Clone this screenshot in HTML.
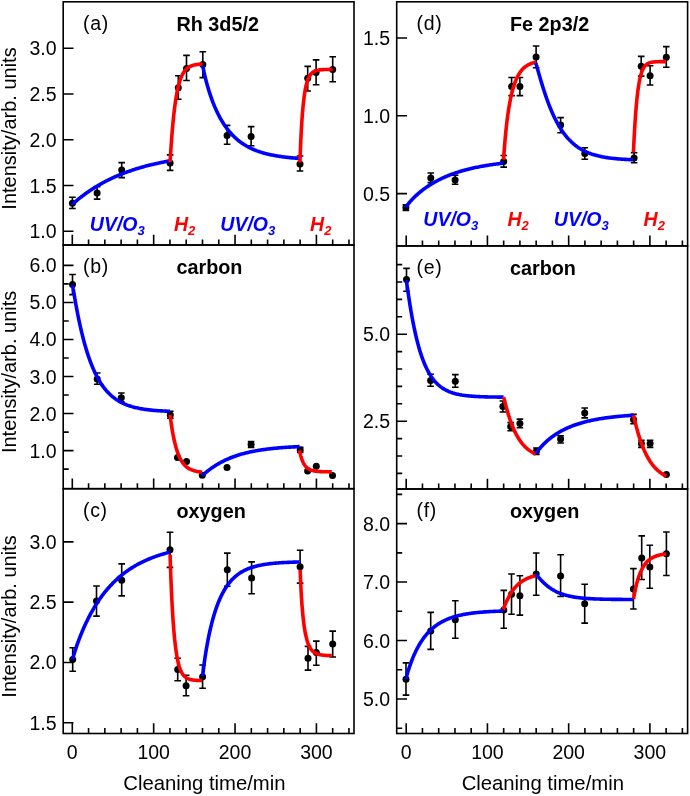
<!DOCTYPE html>
<html><head><meta charset="utf-8"><title>Cleaning time series</title>
<style>html,body{margin:0;padding:0;background:#fff;}svg{display:block;}</style>
</head><body>
<svg width="690" height="796" viewBox="0 0 690 796">
<rect x="0" y="0" width="690" height="796" fill="#ffffff"/>
<rect x="63.2" y="1.8" width="290.80" height="243.20" fill="none" stroke="#000" stroke-width="1.6"/>
<rect x="63.2" y="245.0" width="290.80" height="243.70" fill="none" stroke="#000" stroke-width="1.6"/>
<rect x="63.2" y="488.7" width="290.80" height="244.80" fill="none" stroke="#000" stroke-width="1.6"/>
<rect x="396.7" y="1.8" width="290.90" height="244.10" fill="none" stroke="#000" stroke-width="1.6"/>
<rect x="396.7" y="245.9" width="290.90" height="243.10" fill="none" stroke="#000" stroke-width="1.6"/>
<rect x="396.7" y="489.0" width="290.90" height="244.50" fill="none" stroke="#000" stroke-width="1.6"/>
<path d="M63.20,231.30H73.50 M63.20,185.53H73.50 M63.20,139.75H73.50 M63.20,93.98H73.50 M63.20,48.20H73.50 M72.30,245.00V234.70 M88.57,245.00V239.50 M104.85,245.00V239.50 M121.12,245.00V239.50 M137.40,245.00V239.50 M153.67,245.00V234.70 M169.94,245.00V239.50 M186.22,245.00V239.50 M202.49,245.00V239.50 M218.77,245.00V239.50 M235.04,245.00V234.70 M251.31,245.00V239.50 M267.59,245.00V239.50 M283.86,245.00V239.50 M300.14,245.00V239.50 M316.41,245.00V234.70 M332.68,245.00V239.50 M348.96,245.00V239.50 M63.20,450.60H73.50 M63.20,413.56H73.50 M63.20,376.52H73.50 M63.20,339.48H73.50 M63.20,302.44H73.50 M63.20,265.40H73.50 M63.20,469.12H68.70 M63.20,432.08H68.70 M63.20,395.04H68.70 M63.20,358.00H68.70 M63.20,320.96H68.70 M63.20,283.92H68.70 M72.30,488.70V478.40 M88.57,488.70V483.20 M104.85,488.70V483.20 M121.12,488.70V483.20 M137.40,488.70V483.20 M153.67,488.70V478.40 M169.94,488.70V483.20 M186.22,488.70V483.20 M202.49,488.70V483.20 M218.77,488.70V483.20 M235.04,488.70V478.40 M251.31,488.70V483.20 M267.59,488.70V483.20 M283.86,488.70V483.20 M300.14,488.70V483.20 M316.41,488.70V478.40 M332.68,488.70V483.20 M348.96,488.70V483.20 M63.20,722.70H73.50 M63.20,662.43H73.50 M63.20,602.15H73.50 M63.20,541.88H73.50 M72.30,733.50V723.20 M88.57,733.50V728.00 M104.85,733.50V728.00 M121.12,733.50V728.00 M137.40,733.50V728.00 M153.67,733.50V723.20 M169.94,733.50V728.00 M186.22,733.50V728.00 M202.49,733.50V728.00 M218.77,733.50V728.00 M235.04,733.50V723.20 M251.31,733.50V728.00 M267.59,733.50V728.00 M283.86,733.50V728.00 M300.14,733.50V728.00 M316.41,733.50V723.20 M332.68,733.50V728.00 M348.96,733.50V728.00 M396.70,193.60H407.00 M396.70,115.80H407.00 M396.70,38.00H407.00 M406.20,245.90V235.60 M422.45,245.90V240.40 M438.69,245.90V240.40 M454.94,245.90V240.40 M471.18,245.90V240.40 M487.43,245.90V235.60 M503.68,245.90V240.40 M519.92,245.90V240.40 M536.17,245.90V240.40 M552.41,245.90V240.40 M568.66,245.90V235.60 M584.91,245.90V240.40 M601.15,245.90V240.40 M617.40,245.90V240.40 M633.64,245.90V240.40 M649.89,245.90V235.60 M666.14,245.90V240.40 M682.38,245.90V240.40 M396.70,421.20H407.00 M396.70,334.20H407.00 M396.70,473.40H402.20 M396.70,456.00H402.20 M396.70,438.60H402.20 M396.70,403.80H402.20 M396.70,386.40H402.20 M396.70,369.00H402.20 M396.70,351.60H402.20 M396.70,316.80H402.20 M396.70,299.40H402.20 M396.70,282.00H402.20 M396.70,264.60H402.20 M406.20,489.00V478.70 M422.45,489.00V483.50 M438.69,489.00V483.50 M454.94,489.00V483.50 M471.18,489.00V483.50 M487.43,489.00V478.70 M503.68,489.00V483.50 M519.92,489.00V483.50 M536.17,489.00V483.50 M552.41,489.00V483.50 M568.66,489.00V478.70 M584.91,489.00V483.50 M601.15,489.00V483.50 M617.40,489.00V483.50 M633.64,489.00V483.50 M649.89,489.00V478.70 M666.14,489.00V483.50 M682.38,489.00V483.50 M396.70,699.00H407.00 M396.70,640.53H407.00 M396.70,582.06H407.00 M396.70,523.59H407.00 M396.70,728.24H402.20 M396.70,669.76H402.20 M396.70,611.29H402.20 M396.70,552.83H402.20 M396.70,494.36H402.20 M406.20,733.50V723.20 M422.45,733.50V728.00 M438.69,733.50V728.00 M454.94,733.50V728.00 M471.18,733.50V728.00 M487.43,733.50V723.20 M503.68,733.50V728.00 M519.92,733.50V728.00 M536.17,733.50V728.00 M552.41,733.50V728.00 M568.66,733.50V723.20 M584.91,733.50V728.00 M601.15,733.50V728.00 M617.40,733.50V728.00 M633.64,733.50V728.00 M649.89,733.50V723.20 M666.14,733.50V728.00 M682.38,733.50V728.00" stroke="#000" stroke-width="1.6" fill="none"/>
<path d="M72.40,197.20V208.50M69.10,197.20H75.70M69.10,208.50H75.70 M97.10,186.60V199.10M93.80,186.60H100.40M93.80,199.10H100.40 M121.70,162.60V177.60M118.40,162.60H125.00M118.40,177.60H125.00 M170.10,154.90V170.40M166.80,154.90H173.40M166.80,170.40H173.40 M178.30,75.80V99.30M175.00,75.80H181.60M175.00,99.30H181.60 M186.50,55.40V80.50M183.20,55.40H189.80M183.20,80.50H189.80 M202.80,51.80V77.60M199.50,51.80H206.10M199.50,77.60H206.10 M227.10,125.40V144.30M223.80,125.40H230.40M223.80,144.30H230.40 M251.10,126.60V145.70M247.80,126.60H254.40M247.80,145.70H254.40 M300.00,156.00V171.00M296.70,156.00H303.30M296.70,171.00H303.30 M307.70,66.40V91.00M304.40,66.40H311.00M304.40,91.00H311.00 M316.10,59.90V84.80M312.80,59.90H319.40M312.80,84.80H319.40 M332.70,56.70V81.80M329.40,56.70H336.00M329.40,81.80H336.00 M72.50,274.50V294.60M69.20,274.50H75.80M69.20,294.60H75.80 M97.20,373.00V384.20M93.90,373.00H100.50M93.90,384.20H100.50 M121.30,393.00V401.70M118.00,393.00H124.60M118.00,401.70H124.60 M170.30,411.20V418.20M167.00,411.20H173.60M167.00,418.20H173.60 M251.10,441.60V447.50M247.80,441.60H254.40M247.80,447.50H254.40 M300.20,447.40V452.50M296.90,447.40H303.50M296.90,452.50H303.50 M72.70,647.70V671.30M69.40,647.70H76.00M69.40,671.30H76.00 M96.50,586.00V616.10M93.20,586.00H99.80M93.20,616.10H99.80 M121.70,563.90V595.90M118.40,563.90H125.00M118.40,595.90H125.00 M170.00,532.30V567.40M166.70,532.30H173.30M166.70,567.40H173.30 M177.70,658.20V680.70M174.40,658.20H181.00M174.40,680.70H181.00 M186.10,675.30V695.80M182.80,675.30H189.40M182.80,695.80H189.40 M202.60,665.00V688.30M199.30,665.00H205.90M199.30,688.30H205.90 M227.30,553.10V586.20M224.00,553.10H230.60M224.00,586.20H230.60 M251.60,561.90V593.70M248.30,561.90H254.90M248.30,593.70H254.90 M300.10,550.20V583.10M296.80,550.20H303.40M296.80,583.10H303.40 M308.00,646.40V670.10M304.70,646.40H311.30M304.70,670.10H311.30 M316.30,641.10V665.20M313.00,641.10H319.60M313.00,665.20H319.60 M332.70,631.10V657.00M329.40,631.10H336.00M329.40,657.00H336.00 M405.90,204.70V210.40M402.60,204.70H409.20M402.60,210.40H409.20 M430.80,173.00V182.60M427.50,173.00H434.10M427.50,182.60H434.10 M455.10,175.30V184.30M451.80,175.30H458.40M451.80,184.30H458.40 M503.70,155.50V167.10M500.40,155.50H507.00M500.40,167.10H507.00 M511.60,77.50V95.60M508.30,77.50H514.90M508.30,95.60H514.90 M519.90,77.50V95.60M516.60,77.50H523.20M516.60,95.60H523.20 M536.10,46.00V67.70M532.80,46.00H539.40M532.80,67.70H539.40 M560.60,117.60V132.70M557.30,117.60H563.90M557.30,132.70H563.90 M584.80,147.70V159.30M581.50,147.70H588.10M581.50,159.30H588.10 M634.10,152.80V162.80M630.80,152.80H637.40M630.80,162.80H637.40 M641.20,56.40V76.10M637.90,56.40H644.50M637.90,76.10H644.50 M650.10,65.80V85.00M646.80,65.80H653.40M646.80,85.00H653.40 M666.30,46.60V67.30M663.00,46.60H669.60M663.00,67.30H669.60 M406.50,268.40V291.20M403.20,268.40H409.80M403.20,291.20H409.80 M430.60,374.20V386.20M427.30,374.20H433.90M427.30,386.20H433.90 M455.30,374.60V387.20M452.00,374.60H458.60M452.00,387.20H458.60 M502.90,401.00V412.00M499.60,401.00H506.20M499.60,412.00H506.20 M510.70,422.60V430.80M507.40,422.60H514.00M507.40,430.80H514.00 M519.90,419.10V427.80M516.60,419.10H523.20M516.60,427.80H523.20 M536.40,448.00V454.50M533.10,448.00H539.70M533.10,454.50H539.70 M560.60,435.70V443.00M557.30,435.70H563.90M557.30,443.00H563.90 M584.70,408.00V417.90M581.40,408.00H588.00M581.40,417.90H588.00 M633.50,414.40V423.80M630.20,414.40H636.80M630.20,423.80H636.80 M641.40,440.20V447.40M638.10,440.20H644.70M638.10,447.40H644.70 M650.10,440.20V447.40M646.80,440.20H653.40M646.80,447.40H653.40 M406.00,662.90V695.10M402.70,662.90H409.30M402.70,695.10H409.30 M430.70,612.40V649.40M427.40,612.40H434.00M427.40,649.40H434.00 M455.30,600.80V638.30M452.00,600.80H458.60M452.00,638.30H458.60 M503.80,590.40V628.30M500.50,590.40H507.10M500.50,628.30H507.10 M511.50,574.00V614.30M508.20,574.00H514.80M508.20,614.30H514.80 M519.90,575.70V615.10M516.60,575.70H523.20M516.60,615.10H523.20 M536.20,553.00V595.30M532.90,553.00H539.50M532.90,595.30H539.50 M560.60,554.80V596.50M557.30,554.80H563.90M557.30,596.50H563.90 M584.70,584.20V623.10M581.40,584.20H588.00M581.40,623.10H588.00 M633.40,568.60V609.00M630.10,568.60H636.70M630.10,609.00H636.70 M641.70,535.90V579.50M638.40,535.90H645.00M638.40,579.50H645.00 M649.80,545.20V588.20M646.50,545.20H653.10M646.50,588.20H653.10 M666.40,532.00V575.50M663.10,532.00H669.70M663.10,575.50H669.70" stroke="#000" stroke-width="1.6" fill="none"/>
<g fill="#000"><circle cx="72.40" cy="203.30" r="3.5"/><circle cx="97.10" cy="192.90" r="3.5"/><circle cx="121.70" cy="170.10" r="3.5"/><circle cx="170.10" cy="163.10" r="3.5"/><circle cx="178.30" cy="87.80" r="3.5"/><circle cx="186.50" cy="68.40" r="3.5"/><circle cx="202.80" cy="64.50" r="3.5"/><circle cx="227.10" cy="135.50" r="3.5"/><circle cx="251.10" cy="136.40" r="3.5"/><circle cx="300.00" cy="164.00" r="3.5"/><circle cx="307.70" cy="78.30" r="3.5"/><circle cx="316.10" cy="72.50" r="3.5"/><circle cx="332.70" cy="69.50" r="3.5"/><circle cx="72.50" cy="284.50" r="3.5"/><circle cx="97.20" cy="379.00" r="3.5"/><circle cx="121.30" cy="397.70" r="3.5"/><circle cx="170.30" cy="415.00" r="3.5"/><circle cx="177.50" cy="457.50" r="3.5"/><circle cx="186.50" cy="461.40" r="3.5"/><circle cx="202.30" cy="475.30" r="3.5"/><circle cx="227.00" cy="467.60" r="3.5"/><circle cx="251.10" cy="444.50" r="3.5"/><circle cx="300.20" cy="450.00" r="3.5"/><circle cx="307.60" cy="471.10" r="3.5"/><circle cx="316.30" cy="466.20" r="3.5"/><circle cx="332.50" cy="475.50" r="3.5"/><circle cx="72.70" cy="659.60" r="3.5"/><circle cx="96.50" cy="601.00" r="3.5"/><circle cx="121.70" cy="580.30" r="3.5"/><circle cx="170.00" cy="549.70" r="3.5"/><circle cx="177.70" cy="669.60" r="3.5"/><circle cx="186.10" cy="685.70" r="3.5"/><circle cx="202.60" cy="676.70" r="3.5"/><circle cx="227.30" cy="569.70" r="3.5"/><circle cx="251.60" cy="578.00" r="3.5"/><circle cx="300.10" cy="566.70" r="3.5"/><circle cx="308.00" cy="658.20" r="3.5"/><circle cx="316.30" cy="652.60" r="3.5"/><circle cx="332.70" cy="644.10" r="3.5"/><circle cx="405.90" cy="207.50" r="3.5"/><circle cx="430.80" cy="177.90" r="3.5"/><circle cx="455.10" cy="180.00" r="3.5"/><circle cx="503.70" cy="161.60" r="3.5"/><circle cx="511.60" cy="86.50" r="3.5"/><circle cx="519.90" cy="86.50" r="3.5"/><circle cx="536.10" cy="56.90" r="3.5"/><circle cx="560.60" cy="125.10" r="3.5"/><circle cx="584.80" cy="153.40" r="3.5"/><circle cx="634.10" cy="158.10" r="3.5"/><circle cx="641.20" cy="66.20" r="3.5"/><circle cx="650.10" cy="75.80" r="3.5"/><circle cx="666.30" cy="57.30" r="3.5"/><circle cx="406.50" cy="279.50" r="3.5"/><circle cx="430.60" cy="380.60" r="3.5"/><circle cx="455.30" cy="381.20" r="3.5"/><circle cx="502.90" cy="406.50" r="3.5"/><circle cx="510.70" cy="426.60" r="3.5"/><circle cx="519.90" cy="423.50" r="3.5"/><circle cx="536.40" cy="451.30" r="3.5"/><circle cx="560.60" cy="439.10" r="3.5"/><circle cx="584.70" cy="413.00" r="3.5"/><circle cx="633.50" cy="419.40" r="3.5"/><circle cx="641.40" cy="443.60" r="3.5"/><circle cx="650.10" cy="443.60" r="3.5"/><circle cx="666.40" cy="474.50" r="3.5"/><circle cx="406.00" cy="679.30" r="3.5"/><circle cx="430.70" cy="630.90" r="3.5"/><circle cx="455.30" cy="619.80" r="3.5"/><circle cx="503.80" cy="609.90" r="3.5"/><circle cx="511.50" cy="594.30" r="3.5"/><circle cx="519.90" cy="595.70" r="3.5"/><circle cx="536.20" cy="573.90" r="3.5"/><circle cx="560.60" cy="576.00" r="3.5"/><circle cx="584.70" cy="603.80" r="3.5"/><circle cx="633.40" cy="588.90" r="3.5"/><circle cx="641.70" cy="557.90" r="3.5"/><circle cx="649.80" cy="567.00" r="3.5"/><circle cx="666.40" cy="553.80" r="3.5"/></g>
<polyline points="72.50,204.20 72.50,204.20 72.52,204.19 72.53,204.17 72.56,204.15 72.60,204.12 72.64,204.08 72.69,204.03 72.75,203.98 72.81,203.92 72.88,203.86 72.97,203.78 73.05,203.70 73.15,203.62 73.25,203.53 73.37,203.43 73.49,203.32 73.61,203.21 73.75,203.09 73.89,202.96 74.04,202.83 74.20,202.69 74.36,202.55 74.54,202.40 74.72,202.24 74.91,202.08 75.10,201.91 75.31,201.73 75.52,201.55 75.74,201.36 75.96,201.17 76.20,200.97 76.44,200.77 76.69,200.56 76.95,200.34 77.21,200.12 77.49,199.90 77.77,199.66 78.06,199.43 78.35,199.18 78.66,198.94 78.97,198.69 79.29,198.43 79.62,198.17 79.95,197.90 80.29,197.63 80.64,197.36 81.00,197.08 81.37,196.79 81.74,196.50 82.12,196.21 82.51,195.92 82.91,195.62 83.31,195.31 83.72,195.00 84.14,194.69 84.57,194.38 85.00,194.06 85.45,193.74 85.90,193.41 86.36,193.09 86.82,192.76 87.29,192.42 87.78,192.09 88.26,191.75 88.76,191.41 89.27,191.06 89.78,190.72 90.30,190.37 90.82,190.02 91.36,189.67 91.90,189.31 92.45,188.96 93.01,188.60 93.58,188.24 94.15,187.88 94.73,187.52 95.32,187.15 95.92,186.79 96.52,186.42 97.13,186.06 97.75,185.69 98.38,185.32 99.01,184.95 99.66,184.58 100.31,184.21 100.97,183.84 101.63,183.47 102.30,183.10 102.99,182.73 103.67,182.36 104.37,181.99 105.08,181.62 105.79,181.25 106.51,180.88 107.23,180.51 107.97,180.14 108.71,179.77 109.46,179.40 110.22,179.04 110.99,178.67 111.76,178.31 112.54,177.94 113.33,177.58 114.13,177.22 114.93,176.86 115.74,176.50 116.56,176.14 117.39,175.79 118.23,175.43 119.07,175.08 119.92,174.73 120.78,174.38 121.64,174.04 122.52,173.69 123.40,173.35 124.29,173.01 125.19,172.67 126.09,172.33 127.00,171.99 127.92,171.66 128.85,171.33 129.78,171.00 130.73,170.68 131.68,170.35 132.64,170.03 133.60,169.71 134.58,169.40 135.56,169.08 136.55,168.77 137.54,168.46 138.55,168.16 139.56,167.86 140.58,167.56 141.61,167.26 142.64,166.96 143.69,166.67 144.74,166.38 145.80,166.10 146.86,165.82 147.94,165.54 149.02,165.26 150.11,164.98 151.20,164.71 152.31,164.44 153.42,164.18 154.54,163.92 155.67,163.66 156.80,163.40 157.95,163.15 159.10,162.90 160.26,162.65 161.42,162.41 162.60,162.17 163.78,161.93 164.97,161.69 166.16,161.46 167.37,161.23 168.58,161.01 169.80,160.78" fill="none" stroke="#0000ff" stroke-width="3.6" stroke-linejoin="round" stroke-linecap="butt"/>
<polyline points="170.10,162.09 170.10,162.07 170.11,162.01 170.11,161.90 170.12,161.75 170.13,161.55 170.15,161.32 170.16,161.03 170.18,160.71 170.20,160.34 170.23,159.93 170.26,159.48 170.29,158.99 170.32,158.45 170.35,157.88 170.39,157.26 170.43,156.61 170.47,155.92 170.52,155.20 170.56,154.43 170.61,153.64 170.67,152.80 170.72,151.94 170.78,151.04 170.84,150.12 170.90,149.16 170.97,148.18 171.04,147.16 171.11,146.13 171.18,145.06 171.26,143.98 171.34,142.87 171.42,141.74 171.50,140.59 171.59,139.42 171.67,138.24 171.77,137.04 171.86,135.82 171.96,134.60 172.06,133.36 172.16,132.11 172.26,130.85 172.37,129.59 172.48,128.32 172.59,127.04 172.70,125.76 172.82,124.48 172.94,123.20 173.06,121.92 173.19,120.63 173.31,119.35 173.44,118.08 173.58,116.81 173.71,115.54 173.85,114.28 173.99,113.03 174.13,111.78 174.28,110.55 174.42,109.33 174.58,108.11 174.73,106.91 174.88,105.73 175.04,104.55 175.20,103.39 175.37,102.25 175.53,101.12 175.70,100.00 175.87,98.91 176.04,97.83 176.22,96.77 176.40,95.72 176.58,94.70 176.76,93.69 176.95,92.70 177.14,91.74 177.33,90.79 177.53,89.86 177.72,88.95 177.92,88.06 178.12,87.19 178.33,86.35 178.53,85.52 178.74,84.71 178.96,83.93 179.17,83.16 179.39,82.42 179.61,81.69 179.83,80.98 180.06,80.30 180.28,79.63 180.51,78.99 180.75,78.36 180.98,77.75 181.22,77.16 181.46,76.59 181.70,76.04 181.95,75.51 182.20,74.99 182.45,74.50 182.70,74.02 182.96,73.55 183.21,73.10 183.47,72.67 183.74,72.26 184.00,71.86 184.27,71.47 184.54,71.10 184.82,70.75 185.09,70.41 185.37,70.08 185.66,69.76 185.94,69.46 186.23,69.17 186.52,68.90 186.81,68.63 187.10,68.38 187.40,68.14 187.70,67.90 188.00,67.68 188.30,67.47 188.61,67.27 188.92,67.08 189.23,66.90 189.55,66.72 189.87,66.55 190.19,66.40 190.51,66.25 190.83,66.10 191.16,65.97 191.49,65.84 191.83,65.72 192.16,65.60 192.50,65.49 192.84,65.39 193.18,65.29 193.53,65.19 193.88,65.11 194.23,65.02 194.58,64.94 194.94,64.87 195.30,64.80 195.66,64.73 196.02,64.67 196.39,64.61 196.76,64.55 197.13,64.50 197.50,64.45 197.88,64.41 198.26,64.36 198.64,64.32 199.02,64.28 199.41,64.25 199.80,64.21 200.19,64.18 200.59,64.15 200.99,64.12 201.39,64.10 201.79,64.07 202.19,64.05 202.60,64.03" fill="none" stroke="#ff0000" stroke-width="3.6" stroke-linejoin="round" stroke-linecap="butt"/>
<polyline points="202.80,65.90 202.80,65.93 202.82,66.01 202.83,66.13 202.86,66.30 202.90,66.51 202.94,66.75 202.99,67.03 203.04,67.34 203.11,67.69 203.18,68.07 203.26,68.49 203.35,68.93 203.45,69.41 203.55,69.92 203.66,70.45 203.78,71.01 203.90,71.60 204.04,72.22 204.18,72.86 204.33,73.53 204.48,74.22 204.65,74.93 204.82,75.66 205.00,76.42 205.19,77.19 205.38,77.99 205.58,78.80 205.79,79.64 206.01,80.48 206.24,81.35 206.47,82.23 206.71,83.12 206.96,84.03 207.21,84.95 207.48,85.88 207.75,86.82 208.03,87.78 208.31,88.74 208.61,89.71 208.91,90.69 209.22,91.68 209.53,92.67 209.86,93.67 210.19,94.67 210.53,95.68 210.88,96.69 211.23,97.70 211.59,98.72 211.96,99.74 212.34,100.75 212.73,101.77 213.12,102.79 213.52,103.80 213.93,104.82 214.35,105.83 214.77,106.84 215.20,107.84 215.64,108.84 216.09,109.84 216.54,110.83 217.00,111.81 217.47,112.79 217.95,113.76 218.43,114.73 218.93,115.69 219.43,116.64 219.93,117.58 220.45,118.51 220.97,119.43 221.50,120.35 222.04,121.25 222.59,122.15 223.14,123.03 223.70,123.91 224.27,124.77 224.85,125.62 225.43,126.47 226.02,127.30 226.62,128.11 227.23,128.92 227.84,129.72 228.47,130.50 229.10,131.27 229.73,132.03 230.38,132.77 231.03,133.51 231.69,134.23 232.36,134.94 233.04,135.63 233.72,136.31 234.41,136.98 235.11,137.64 235.81,138.29 236.53,138.92 237.25,139.54 237.98,140.15 238.72,140.74 239.46,141.32 240.21,141.89 240.97,142.45 241.74,142.99 242.51,143.52 243.30,144.05 244.09,144.55 244.88,145.05 245.69,145.53 246.50,146.01 247.32,146.47 248.15,146.92 248.99,147.36 249.83,147.78 250.68,148.20 251.54,148.61 252.41,149.00 253.28,149.38 254.16,149.76 255.05,150.12 255.95,150.47 256.85,150.82 257.77,151.15 258.69,151.48 259.61,151.79 260.55,152.10 261.49,152.39 262.44,152.68 263.40,152.96 264.37,153.23 265.34,153.49 266.32,153.75 267.31,154.00 268.31,154.23 269.31,154.46 270.32,154.69 271.34,154.90 272.37,155.11 273.40,155.32 274.44,155.51 275.49,155.70 276.55,155.88 277.62,156.06 278.69,156.23 279.77,156.39 280.86,156.55 281.95,156.71 283.05,156.85 284.17,156.99 285.28,157.13 286.41,157.26 287.54,157.39 288.68,157.51 289.83,157.63 290.99,157.74 292.15,157.85 293.33,157.96 294.51,158.06 295.69,158.16 296.89,158.25 298.09,158.34 299.30,158.43" fill="none" stroke="#0000ff" stroke-width="3.6" stroke-linejoin="round" stroke-linecap="butt"/>
<polyline points="300.00,162.55 300.00,162.48 300.01,162.31 300.01,162.04 300.02,161.69 300.03,161.25 300.05,160.74 300.06,160.16 300.08,159.50 300.10,158.77 300.13,157.99 300.16,157.14 300.19,156.23 300.22,155.27 300.25,154.25 300.29,153.19 300.33,152.07 300.37,150.92 300.42,149.72 300.47,148.49 300.52,147.21 300.57,145.91 300.62,144.58 300.68,143.22 300.74,141.83 300.81,140.42 300.87,138.99 300.94,137.55 301.01,136.09 301.08,134.62 301.16,133.14 301.24,131.66 301.32,130.17 301.40,128.67 301.49,127.18 301.58,125.68 301.67,124.20 301.77,122.71 301.86,121.24 301.96,119.77 302.06,118.31 302.17,116.87 302.27,115.44 302.38,114.03 302.50,112.63 302.61,111.25 302.73,109.89 302.85,108.55 302.97,107.23 303.10,105.94 303.22,104.67 303.35,103.42 303.49,102.19 303.62,100.99 303.76,99.82 303.90,98.67 304.04,97.55 304.19,96.46 304.34,95.39 304.49,94.35 304.64,93.34 304.80,92.36 304.96,91.40 305.12,90.47 305.28,89.57 305.45,88.69 305.62,87.85 305.79,87.03 305.96,86.23 306.14,85.47 306.32,84.73 306.50,84.01 306.68,83.32 306.87,82.66 307.06,82.02 307.25,81.40 307.45,80.81 307.65,80.24 307.85,79.69 308.05,79.17 308.25,78.66 308.46,78.18 308.67,77.72 308.88,77.28 309.10,76.85 309.32,76.45 309.54,76.06 309.76,75.70 309.99,75.34 310.21,75.01 310.44,74.69 310.68,74.39 310.91,74.10 311.15,73.82 311.39,73.56 311.64,73.31 311.88,73.08 312.13,72.85 312.38,72.64 312.64,72.44 312.90,72.25 313.15,72.07 313.42,71.90 313.68,71.74 313.95,71.59 314.22,71.45 314.49,71.32 314.76,71.19 315.04,71.07 315.32,70.96 315.60,70.85 315.89,70.75 316.18,70.66 316.47,70.57 316.76,70.49 317.05,70.41 317.35,70.34 317.65,70.27 317.96,70.21 318.26,70.15 318.57,70.09 318.88,70.04 319.19,69.99 319.51,69.95 319.83,69.90 320.15,69.86 320.47,69.83 320.80,69.79 321.13,69.76 321.46,69.73 321.79,69.70 322.13,69.68 322.47,69.65 322.81,69.63 323.15,69.61 323.50,69.59 323.85,69.57 324.20,69.56 324.56,69.54 324.91,69.53 325.27,69.52 325.64,69.50 326.00,69.49 326.37,69.48 326.74,69.47 327.11,69.47 327.49,69.46 327.86,69.45 328.25,69.44 328.63,69.44 329.01,69.43 329.40,69.43 329.79,69.42 330.19,69.42 330.58,69.41 330.98,69.41 331.38,69.41 331.79,69.40 332.19,69.40 332.60,69.40" fill="none" stroke="#ff0000" stroke-width="3.6" stroke-linejoin="round" stroke-linecap="butt"/>
<polyline points="72.60,285.24 72.60,285.26 72.62,285.32 72.63,285.44 72.66,285.60 72.70,285.80 72.74,286.06 72.79,286.36 72.85,286.71 72.91,287.10 72.99,287.55 73.07,288.04 73.15,288.58 73.25,289.16 73.36,289.79 73.47,290.47 73.59,291.19 73.71,291.95 73.85,292.76 73.99,293.61 74.14,294.50 74.30,295.43 74.46,296.40 74.64,297.41 74.82,298.46 75.01,299.54 75.20,300.66 75.41,301.81 75.62,303.00 75.84,304.22 76.07,305.46 76.30,306.74 76.55,308.05 76.80,309.38 77.05,310.73 77.32,312.11 77.59,313.51 77.87,314.93 78.16,316.37 78.46,317.83 78.76,319.31 79.08,320.80 79.40,322.30 79.72,323.82 80.06,325.35 80.40,326.88 80.75,328.43 81.11,329.98 81.48,331.53 81.85,333.09 82.23,334.66 82.62,336.22 83.02,337.78 83.42,339.34 83.83,340.90 84.25,342.46 84.68,344.01 85.12,345.55 85.56,347.08 86.01,348.61 86.47,350.13 86.94,351.63 87.41,353.13 87.89,354.61 88.38,356.08 88.88,357.54 89.38,358.98 89.89,360.40 90.41,361.81 90.94,363.19 91.48,364.57 92.02,365.92 92.57,367.25 93.13,368.56 93.70,369.86 94.27,371.13 94.85,372.38 95.44,373.61 96.04,374.81 96.64,376.00 97.26,377.16 97.88,378.30 98.51,379.41 99.14,380.50 99.78,381.57 100.44,382.61 101.09,383.64 101.76,384.63 102.44,385.61 103.12,386.56 103.81,387.48 104.50,388.39 105.21,389.26 105.92,390.12 106.64,390.95 107.37,391.76 108.11,392.55 108.85,393.31 109.60,394.06 110.36,394.78 111.13,395.48 111.90,396.15 112.68,396.81 113.47,397.44 114.27,398.06 115.08,398.65 115.89,399.22 116.71,399.78 117.54,400.32 118.37,400.83 119.22,401.33 120.07,401.81 120.93,402.28 121.80,402.72 122.67,403.15 123.55,403.56 124.44,403.96 125.34,404.34 126.24,404.71 127.16,405.06 128.08,405.40 129.01,405.72 129.94,406.03 130.89,406.33 131.84,406.62 132.80,406.89 133.77,407.15 134.74,407.40 135.72,407.64 136.71,407.87 137.71,408.09 138.72,408.29 139.73,408.49 140.75,408.68 141.78,408.86 142.82,409.03 143.86,409.19 144.91,409.35 145.97,409.50 147.04,409.64 148.11,409.77 149.20,409.90 150.29,410.02 151.38,410.13 152.49,410.24 153.60,410.34 154.72,410.44 155.85,410.53 156.99,410.62 158.13,410.70 159.29,410.77 160.45,410.85 161.61,410.92 162.79,410.98 163.97,411.04 165.16,411.10 166.36,411.16 167.57,411.21 168.78,411.26 170.00,411.30" fill="none" stroke="#0000ff" stroke-width="3.6" stroke-linejoin="round" stroke-linecap="butt"/>
<polyline points="170.10,415.06 170.10,415.07 170.11,415.10 170.11,415.16 170.12,415.23 170.13,415.32 170.15,415.44 170.16,415.57 170.18,415.72 170.20,415.90 170.23,416.09 170.25,416.30 170.28,416.53 170.31,416.78 170.35,417.05 170.38,417.34 170.42,417.64 170.46,417.96 170.51,418.30 170.56,418.66 170.60,419.03 170.66,419.42 170.71,419.83 170.77,420.25 170.83,420.68 170.89,421.13 170.95,421.59 171.02,422.07 171.09,422.56 171.16,423.06 171.24,423.57 171.31,424.10 171.39,424.64 171.47,425.19 171.56,425.74 171.65,426.31 171.74,426.89 171.83,427.47 171.92,428.07 172.02,428.67 172.12,429.27 172.22,429.89 172.33,430.51 172.43,431.13 172.54,431.77 172.66,432.40 172.77,433.04 172.89,433.68 173.01,434.33 173.13,434.98 173.25,435.63 173.38,436.28 173.51,436.93 173.64,437.58 173.78,438.24 173.92,438.89 174.06,439.54 174.20,440.19 174.34,440.84 174.49,441.49 174.64,442.13 174.80,442.77 174.95,443.41 175.11,444.04 175.27,444.67 175.43,445.30 175.60,445.92 175.76,446.54 175.93,447.15 176.11,447.76 176.28,448.36 176.46,448.95 176.64,449.54 176.82,450.12 177.01,450.69 177.20,451.26 177.39,451.82 177.58,452.37 177.78,452.91 177.98,453.45 178.18,453.98 178.38,454.50 178.58,455.01 178.79,455.52 179.00,456.01 179.22,456.50 179.43,456.98 179.65,457.44 179.87,457.91 180.09,458.36 180.32,458.80 180.55,459.23 180.78,459.66 181.01,460.08 181.25,460.48 181.49,460.88 181.73,461.27 181.97,461.65 182.22,462.02 182.47,462.39 182.72,462.74 182.97,463.09 183.23,463.42 183.49,463.75 183.75,464.07 184.01,464.39 184.28,464.69 184.55,464.98 184.82,465.27 185.09,465.55 185.37,465.82 185.65,466.08 185.93,466.34 186.21,466.59 186.50,466.83 186.79,467.06 187.08,467.29 187.37,467.51 187.67,467.72 187.97,467.93 188.27,468.13 188.57,468.32 188.88,468.50 189.19,468.68 189.50,468.86 189.82,469.03 190.13,469.19 190.45,469.34 190.77,469.49 191.10,469.64 191.42,469.78 191.75,469.92 192.09,470.05 192.42,470.17 192.76,470.29 193.10,470.41 193.44,470.52 193.78,470.62 194.13,470.73 194.48,470.83 194.83,470.92 195.19,471.01 195.54,471.10 195.90,471.18 196.27,471.26 196.63,471.34 197.00,471.41 197.37,471.48 197.74,471.55 198.11,471.62 198.49,471.68 198.87,471.74 199.25,471.79 199.64,471.85 200.03,471.90 200.42,471.95 200.81,471.99 201.20,472.04 201.60,472.08 202.00,472.12" fill="none" stroke="#ff0000" stroke-width="3.6" stroke-linejoin="round" stroke-linecap="butt"/>
<polyline points="202.40,475.39 202.40,475.39 202.42,475.38 202.43,475.36 202.46,475.34 202.50,475.32 202.54,475.28 202.59,475.24 202.65,475.19 202.71,475.14 202.78,475.08 202.87,475.01 202.95,474.93 203.05,474.85 203.15,474.77 203.27,474.67 203.38,474.57 203.51,474.46 203.65,474.35 203.79,474.23 203.94,474.10 204.10,473.97 204.26,473.83 204.43,473.68 204.61,473.53 204.80,473.37 205.00,473.21 205.20,473.04 205.41,472.87 205.63,472.69 205.86,472.50 206.09,472.31 206.34,472.11 206.59,471.91 206.84,471.71 207.11,471.49 207.38,471.28 207.66,471.06 207.95,470.83 208.25,470.60 208.55,470.37 208.86,470.13 209.18,469.89 209.51,469.64 209.84,469.40 210.19,469.14 210.54,468.89 210.89,468.63 211.26,468.37 211.63,468.10 212.01,467.84 212.40,467.57 212.80,467.30 213.20,467.02 213.61,466.74 214.03,466.47 214.46,466.19 214.89,465.91 215.33,465.62 215.78,465.34 216.24,465.05 216.71,464.77 217.18,464.48 217.66,464.20 218.15,463.91 218.64,463.62 219.15,463.33 219.66,463.04 220.18,462.76 220.71,462.47 221.24,462.18 221.78,461.89 222.33,461.61 222.89,461.32 223.45,461.04 224.03,460.75 224.61,460.47 225.20,460.19 225.79,459.91 226.40,459.63 227.01,459.36 227.63,459.08 228.25,458.81 228.89,458.54 229.53,458.27 230.18,458.00 230.84,457.74 231.50,457.48 232.17,457.22 232.85,456.96 233.54,456.70 234.24,456.45 234.94,456.20 235.65,455.96 236.37,455.71 237.10,455.47 237.83,455.23 238.58,455.00 239.33,454.77 240.08,454.54 240.85,454.31 241.62,454.09 242.40,453.87 243.19,453.66 243.99,453.44 244.79,453.23 245.60,453.03 246.42,452.83 247.25,452.63 248.08,452.43 248.92,452.24 249.77,452.05 250.63,451.86 251.49,451.68 252.37,451.50 253.25,451.33 254.14,451.15 255.03,450.99 255.93,450.82 256.85,450.66 257.76,450.50 258.69,450.34 259.63,450.19 260.57,450.04 261.52,449.90 262.47,449.76 263.44,449.62 264.41,449.48 265.39,449.35 266.38,449.22 267.38,449.09 268.38,448.97 269.39,448.85 270.41,448.73 271.44,448.62 272.47,448.51 273.51,448.40 274.56,448.29 275.62,448.19 276.69,448.09 277.76,447.99 278.84,447.90 279.93,447.80 281.02,447.71 282.13,447.63 283.24,447.54 284.36,447.46 285.48,447.38 286.62,447.30 287.76,447.23 288.91,447.16 290.06,447.09 291.23,447.02 292.40,446.95 293.58,446.89 294.77,446.83 295.97,446.77 297.17,446.71 298.38,446.65 299.60,446.60" fill="none" stroke="#0000ff" stroke-width="3.6" stroke-linejoin="round" stroke-linecap="butt"/>
<polyline points="299.60,450.31 299.60,450.32 299.61,450.34 299.61,450.39 299.62,450.45 299.63,450.52 299.65,450.61 299.66,450.71 299.68,450.82 299.70,450.95 299.73,451.08 299.75,451.23 299.78,451.39 299.82,451.56 299.85,451.74 299.89,451.93 299.93,452.13 299.97,452.34 300.01,452.56 300.06,452.79 300.11,453.02 300.16,453.26 300.22,453.51 300.27,453.76 300.33,454.02 300.40,454.29 300.46,454.56 300.53,454.84 300.60,455.12 300.67,455.40 300.75,455.69 300.82,455.98 300.90,456.27 300.99,456.57 301.07,456.87 301.16,457.17 301.25,457.47 301.34,457.77 301.44,458.08 301.54,458.38 301.64,458.69 301.74,458.99 301.85,459.29 301.96,459.59 302.07,459.89 302.18,460.19 302.30,460.49 302.41,460.78 302.53,461.08 302.66,461.37 302.78,461.65 302.91,461.94 303.04,462.22 303.18,462.50 303.31,462.77 303.45,463.04 303.59,463.31 303.74,463.57 303.88,463.83 304.03,464.08 304.19,464.33 304.34,464.58 304.50,464.82 304.66,465.05 304.82,465.28 304.98,465.51 305.15,465.73 305.32,465.95 305.49,466.16 305.66,466.37 305.84,466.57 306.02,466.77 306.20,466.96 306.39,467.14 306.57,467.33 306.76,467.50 306.96,467.67 307.15,467.84 307.35,468.00 307.55,468.16 307.75,468.31 307.96,468.46 308.16,468.61 308.37,468.74 308.59,468.88 308.80,469.01 309.02,469.13 309.24,469.25 309.46,469.37 309.69,469.48 309.92,469.59 310.15,469.70 310.38,469.80 310.62,469.90 310.85,469.99 311.09,470.08 311.34,470.17 311.58,470.25 311.83,470.33 312.08,470.41 312.34,470.48 312.59,470.55 312.85,470.62 313.11,470.68 313.38,470.74 313.64,470.80 313.91,470.86 314.18,470.91 314.46,470.97 314.73,471.02 315.01,471.06 315.29,471.11 315.58,471.15 315.86,471.19 316.15,471.23 316.44,471.27 316.74,471.30 317.04,471.33 317.33,471.37 317.64,471.40 317.94,471.42 318.25,471.45 318.56,471.48 318.87,471.50 319.18,471.52 319.50,471.55 319.82,471.57 320.14,471.59 320.47,471.60 320.80,471.62 321.13,471.64 321.46,471.65 321.79,471.67 322.13,471.68 322.47,471.70 322.81,471.71 323.16,471.72 323.51,471.73 323.86,471.74 324.21,471.75 324.56,471.76 324.92,471.77 325.28,471.78 325.65,471.78 326.01,471.79 326.38,471.80 326.75,471.80 327.12,471.81 327.50,471.82 327.88,471.82 328.26,471.82 328.64,471.83 329.03,471.83 329.42,471.84 329.81,471.84 330.20,471.84 330.60,471.85 331.00,471.85 331.40,471.85 331.80,471.86" fill="none" stroke="#ff0000" stroke-width="3.6" stroke-linejoin="round" stroke-linecap="butt"/>
<polyline points="72.70,659.15 72.70,659.13 72.72,659.08 72.73,658.99 72.76,658.88 72.80,658.73 72.84,658.56 72.89,658.37 72.95,658.14 73.01,657.89 73.08,657.62 73.16,657.32 73.25,657.00 73.35,656.65 73.45,656.28 73.56,655.89 73.68,655.48 73.81,655.04 73.94,654.58 74.09,654.11 74.24,653.61 74.39,653.09 74.56,652.55 74.73,651.99 74.91,651.42 75.10,650.82 75.30,650.21 75.50,649.58 75.71,648.93 75.93,648.27 76.16,647.59 76.39,646.89 76.63,646.18 76.88,645.46 77.14,644.72 77.41,643.96 77.68,643.20 77.96,642.42 78.25,641.62 78.54,640.82 78.85,640.00 79.16,639.17 79.48,638.33 79.80,637.49 80.14,636.63 80.48,635.76 80.83,634.88 81.18,633.99 81.55,633.10 81.92,632.20 82.30,631.29 82.69,630.37 83.09,629.45 83.49,628.52 83.90,627.59 84.32,626.65 84.74,625.71 85.18,624.76 85.62,623.81 86.07,622.85 86.53,621.89 86.99,620.93 87.46,619.97 87.94,619.01 88.43,618.04 88.93,617.07 89.43,616.10 89.94,615.13 90.46,614.16 90.99,613.20 91.52,612.23 92.06,611.26 92.61,610.30 93.17,609.33 93.73,608.37 94.30,607.41 94.88,606.45 95.47,605.50 96.07,604.55 96.67,603.60 97.28,602.66 97.90,601.72 98.53,600.79 99.16,599.85 99.80,598.93 100.45,598.01 101.11,597.09 101.77,596.18 102.44,595.28 103.12,594.38 103.81,593.49 104.51,592.60 105.21,591.73 105.92,590.85 106.64,589.99 107.36,589.13 108.10,588.28 108.84,587.44 109.59,586.60 110.34,585.77 111.11,584.95 111.88,584.14 112.66,583.34 113.45,582.54 114.24,581.76 115.05,580.98 115.86,580.21 116.67,579.45 117.50,578.69 118.33,577.95 119.17,577.22 120.02,576.49 120.88,575.77 121.74,575.06 122.62,574.37 123.49,573.68 124.38,573.00 125.28,572.32 126.18,571.66 127.09,571.01 128.01,570.37 128.93,569.73 129.87,569.11 130.81,568.49 131.76,567.88 132.71,567.29 133.68,566.70 134.65,566.12 135.63,565.55 136.62,564.99 137.61,564.44 138.61,563.90 139.62,563.37 140.64,562.84 141.67,562.33 142.70,561.82 143.74,561.32 144.79,560.84 145.84,560.36 146.91,559.89 147.98,559.42 149.06,558.97 150.15,558.52 151.24,558.09 152.34,557.66 153.45,557.24 154.57,556.83 155.70,556.42 156.83,556.03 157.97,555.64 159.12,555.26 160.27,554.89 161.44,554.53 162.61,554.17 163.79,553.82 164.98,553.48 166.17,553.14 167.37,552.82 168.58,552.50 169.80,552.18" fill="none" stroke="#0000ff" stroke-width="3.6" stroke-linejoin="round" stroke-linecap="butt"/>
<polyline points="170.10,554.46 170.10,554.51 170.11,554.66 170.11,554.90 170.12,555.22 170.13,555.62 170.15,556.11 170.16,556.68 170.18,557.32 170.20,558.03 170.23,558.82 170.25,559.69 170.28,560.62 170.31,561.61 170.35,562.67 170.38,563.80 170.42,564.98 170.46,566.22 170.51,567.51 170.56,568.86 170.60,570.26 170.66,571.71 170.71,573.20 170.77,574.73 170.83,576.30 170.89,577.91 170.95,579.56 171.02,581.24 171.09,582.94 171.16,584.67 171.24,586.43 171.31,588.21 171.39,590.01 171.47,591.82 171.56,593.65 171.65,595.49 171.74,597.33 171.83,599.19 171.92,601.05 172.02,602.91 172.12,604.77 172.22,606.62 172.33,608.48 172.43,610.32 172.54,612.16 172.66,613.99 172.77,615.80 172.89,617.60 173.01,619.39 173.13,621.16 173.25,622.91 173.38,624.64 173.51,626.34 173.64,628.03 173.78,629.69 173.92,631.33 174.06,632.94 174.20,634.52 174.34,636.07 174.49,637.60 174.64,639.10 174.80,640.56 174.95,642.00 175.11,643.41 175.27,644.78 175.43,646.12 175.60,647.43 175.76,648.71 175.93,649.96 176.11,651.17 176.28,652.35 176.46,653.50 176.64,654.62 176.82,655.70 177.01,656.75 177.20,657.77 177.39,658.76 177.58,659.72 177.78,660.64 177.98,661.54 178.18,662.40 178.38,663.24 178.58,664.04 178.79,664.82 179.00,665.57 179.22,666.29 179.43,666.99 179.65,667.65 179.87,668.30 180.09,668.91 180.32,669.50 180.55,670.07 180.78,670.61 181.01,671.14 181.25,671.63 181.49,672.11 181.73,672.57 181.97,673.00 182.22,673.42 182.47,673.82 182.72,674.20 182.97,674.56 183.23,674.90 183.49,675.23 183.75,675.54 184.01,675.84 184.28,676.12 184.55,676.39 184.82,676.64 185.09,676.88 185.37,677.11 185.65,677.33 185.93,677.53 186.21,677.72 186.50,677.91 186.79,678.08 187.08,678.24 187.37,678.40 187.67,678.54 187.97,678.68 188.27,678.81 188.57,678.93 188.88,679.05 189.19,679.15 189.50,679.26 189.82,679.35 190.13,679.44 190.45,679.52 190.77,679.60 191.10,679.68 191.42,679.75 191.75,679.81 192.09,679.87 192.42,679.93 192.76,679.98 193.10,680.03 193.44,680.08 193.78,680.12 194.13,680.16 194.48,680.20 194.83,680.23 195.19,680.26 195.54,680.29 195.90,680.32 196.27,680.35 196.63,680.37 197.00,680.39 197.37,680.42 197.74,680.43 198.11,680.45 198.49,680.47 198.87,680.48 199.25,680.50 199.64,680.51 200.03,680.52 200.42,680.54 200.81,680.55 201.20,680.56 201.60,680.56 202.00,680.57" fill="none" stroke="#ff0000" stroke-width="3.6" stroke-linejoin="round" stroke-linecap="butt"/>
<polyline points="202.70,675.88 202.70,675.83 202.72,675.69 202.73,675.48 202.76,675.20 202.80,674.85 202.84,674.44 202.89,673.97 202.95,673.44 203.01,672.85 203.08,672.20 203.16,671.50 203.25,670.75 203.35,669.95 203.45,669.11 203.56,668.21 203.68,667.27 203.81,666.29 203.94,665.27 204.08,664.20 204.23,663.10 204.39,661.97 204.55,660.80 204.73,659.60 204.91,658.36 205.09,657.10 205.29,655.82 205.49,654.50 205.70,653.17 205.92,651.81 206.15,650.43 206.38,649.04 206.62,647.63 206.87,646.20 207.13,644.76 207.39,643.31 207.66,641.85 207.94,640.38 208.23,638.91 208.52,637.43 208.83,635.94 209.14,634.46 209.45,632.97 209.78,631.48 210.11,630.00 210.45,628.52 210.80,627.04 211.16,625.57 211.52,624.11 211.89,622.65 212.27,621.20 212.66,619.77 213.05,618.34 213.46,616.93 213.87,615.52 214.28,614.14 214.71,612.77 215.14,611.41 215.58,610.07 216.03,608.74 216.48,607.44 216.95,606.15 217.42,604.88 217.90,603.63 218.38,602.40 218.88,601.19 219.38,600.00 219.89,598.83 220.41,597.68 220.93,596.55 221.46,595.45 222.00,594.37 222.55,593.31 223.10,592.27 223.67,591.25 224.24,590.26 224.82,589.29 225.40,588.34 226.00,587.41 226.60,586.51 227.21,585.62 227.82,584.76 228.45,583.93 229.08,583.11 229.72,582.32 230.36,581.54 231.02,580.79 231.68,580.06 232.35,579.35 233.03,578.66 233.71,578.00 234.41,577.35 235.11,576.72 235.82,576.11 236.53,575.52 237.26,574.95 237.99,574.40 238.73,573.87 239.47,573.35 240.23,572.85 240.99,572.37 241.76,571.90 242.54,571.46 243.32,571.02 244.11,570.61 244.91,570.20 245.72,569.82 246.54,569.44 247.36,569.08 248.19,568.74 249.03,568.41 249.88,568.09 250.73,567.78 251.59,567.49 252.46,567.21 253.34,566.94 254.22,566.68 255.11,566.43 256.01,566.19 256.92,565.96 257.84,565.74 258.76,565.53 259.69,565.33 260.63,565.14 261.57,564.96 262.53,564.79 263.49,564.62 264.46,564.46 265.43,564.31 266.42,564.17 267.41,564.03 268.41,563.90 269.42,563.77 270.43,563.65 271.45,563.54 272.48,563.43 273.52,563.33 274.57,563.23 275.62,563.14 276.68,563.05 277.75,562.97 278.82,562.89 279.91,562.81 281.00,562.74 282.10,562.67 283.20,562.61 284.32,562.55 285.44,562.49 286.57,562.44 287.71,562.39 288.85,562.34 290.00,562.29 291.16,562.25 292.33,562.21 293.51,562.17 294.69,562.13 295.88,562.10 297.08,562.07 298.29,562.04 299.50,562.01" fill="none" stroke="#0000ff" stroke-width="3.6" stroke-linejoin="round" stroke-linecap="butt"/>
<polyline points="300.20,569.64 300.20,569.72 300.20,569.89 300.21,570.15 300.22,570.49 300.23,570.90 300.24,571.37 300.26,571.90 300.28,572.50 300.30,573.14 300.32,573.84 300.35,574.59 300.38,575.39 300.41,576.23 300.44,577.11 300.48,578.03 300.52,578.99 300.56,579.98 300.60,581.00 300.65,582.05 300.70,583.14 300.75,584.24 300.80,585.37 300.86,586.53 300.92,587.70 300.98,588.88 301.04,590.09 301.11,591.31 301.18,592.53 301.25,593.77 301.32,595.02 301.40,596.27 301.48,597.53 301.56,598.79 301.64,600.05 301.73,601.32 301.82,602.58 301.91,603.83 302.00,605.09 302.10,606.33 302.20,607.57 302.30,608.81 302.40,610.03 302.51,611.24 302.62,612.45 302.73,613.64 302.84,614.81 302.96,615.98 303.08,617.13 303.20,618.26 303.32,619.38 303.45,620.48 303.58,621.56 303.71,622.62 303.84,623.67 303.98,624.70 304.12,625.71 304.26,626.69 304.40,627.66 304.55,628.61 304.70,629.54 304.85,630.45 305.00,631.34 305.16,632.21 305.32,633.05 305.48,633.88 305.64,634.68 305.81,635.47 305.98,636.23 306.15,636.97 306.32,637.69 306.50,638.40 306.68,639.08 306.86,639.74 307.04,640.38 307.23,641.01 307.42,641.61 307.61,642.19 307.80,642.76 308.00,643.31 308.20,643.84 308.40,644.35 308.60,644.84 308.81,645.32 309.02,645.78 309.23,646.22 309.44,646.65 309.66,647.06 309.88,647.46 310.10,647.84 310.32,648.21 310.55,648.56 310.78,648.90 311.01,649.23 311.24,649.54 311.48,649.84 311.72,650.13 311.96,650.40 312.20,650.67 312.45,650.92 312.70,651.16 312.95,651.40 313.20,651.62 313.46,651.83 313.72,652.03 313.98,652.22 314.24,652.41 314.51,652.58 314.78,652.75 315.05,652.91 315.32,653.06 315.60,653.21 315.88,653.35 316.16,653.48 316.44,653.60 316.73,653.72 317.02,653.84 317.31,653.94 317.60,654.04 317.90,654.14 318.20,654.23 318.50,654.32 318.80,654.40 319.11,654.48 319.42,654.55 319.73,654.62 320.04,654.69 320.36,654.75 320.68,654.81 321.00,654.87 321.32,654.92 321.65,654.97 321.98,655.02 322.31,655.06 322.64,655.10 322.98,655.14 323.32,655.18 323.66,655.21 324.00,655.25 324.35,655.28 324.70,655.31 325.05,655.33 325.40,655.36 325.76,655.38 326.12,655.41 326.48,655.43 326.84,655.45 327.21,655.47 327.58,655.48 327.95,655.50 328.32,655.51 328.70,655.53 329.08,655.54 329.46,655.55 329.84,655.57 330.23,655.58 330.62,655.59 331.01,655.60 331.40,655.61 331.80,655.61" fill="none" stroke="#ff0000" stroke-width="3.6" stroke-linejoin="round" stroke-linecap="butt"/>
<polyline points="405.90,207.01 405.90,207.00 405.92,206.98 405.93,206.95 405.96,206.91 406.00,206.85 406.04,206.79 406.09,206.71 406.15,206.62 406.21,206.53 406.29,206.42 406.37,206.31 406.46,206.18 406.55,206.05 406.66,205.90 406.77,205.75 406.89,205.59 407.02,205.42 407.15,205.24 407.30,205.06 407.45,204.86 407.60,204.66 407.77,204.45 407.94,204.23 408.13,204.01 408.32,203.78 408.51,203.54 408.72,203.29 408.93,203.03 409.15,202.77 409.38,202.51 409.61,202.23 409.86,201.95 410.11,201.67 410.37,201.38 410.63,201.08 410.91,200.78 411.19,200.47 411.48,200.16 411.78,199.84 412.08,199.51 412.40,199.19 412.72,198.85 413.05,198.52 413.38,198.18 413.73,197.83 414.08,197.48 414.44,197.13 414.80,196.77 415.18,196.41 415.56,196.05 415.95,195.69 416.35,195.32 416.76,194.95 417.17,194.57 417.59,194.20 418.02,193.82 418.46,193.44 418.90,193.06 419.35,192.67 419.81,192.29 420.28,191.90 420.76,191.51 421.24,191.12 421.73,190.73 422.23,190.34 422.73,189.95 423.25,189.56 423.77,189.17 424.30,188.78 424.84,188.38 425.38,187.99 425.93,187.60 426.49,187.21 427.06,186.82 427.64,186.43 428.22,186.04 428.81,185.65 429.41,185.26 430.02,184.87 430.63,184.49 431.26,184.10 431.89,183.72 432.52,183.34 433.17,182.96 433.82,182.58 434.48,182.20 435.15,181.83 435.83,181.46 436.51,181.09 437.20,180.72 437.90,180.35 438.61,179.99 439.32,179.63 440.05,179.27 440.78,178.91 441.52,178.56 442.26,178.21 443.02,177.86 443.78,177.52 444.55,177.18 445.32,176.84 446.11,176.50 446.90,176.17 447.70,175.84 448.51,175.51 449.32,175.19 450.15,174.87 450.98,174.55 451.81,174.24 452.66,173.93 453.52,173.63 454.38,173.32 455.25,173.02 456.12,172.73 457.01,172.44 457.90,172.15 458.80,171.86 459.71,171.58 460.63,171.30 461.55,171.03 462.48,170.76 463.42,170.49 464.37,170.23 465.32,169.97 466.28,169.72 467.25,169.46 468.23,169.21 469.22,168.97 470.21,168.73 471.21,168.49 472.22,168.26 473.24,168.03 474.26,167.80 475.29,167.58 476.33,167.36 477.38,167.14 478.43,166.93 479.50,166.72 480.57,166.52 481.65,166.32 482.73,166.12 483.83,165.93 484.93,165.73 486.04,165.55 487.15,165.36 488.28,165.18 489.41,165.01 490.55,164.83 491.70,164.66 492.85,164.49 494.02,164.33 495.19,164.17 496.37,164.01 497.55,163.85 498.75,163.70 499.95,163.55 501.16,163.41 502.37,163.27 503.60,163.13" fill="none" stroke="#0000ff" stroke-width="3.6" stroke-linejoin="round" stroke-linecap="butt"/>
<polyline points="503.60,159.77 503.60,159.74 503.61,159.65 503.61,159.52 503.62,159.34 503.63,159.12 503.65,158.87 503.66,158.57 503.68,158.23 503.70,157.86 503.73,157.46 503.75,157.02 503.78,156.54 503.82,156.04 503.85,155.50 503.89,154.94 503.93,154.34 503.97,153.72 504.01,153.07 504.06,152.39 504.11,151.68 504.16,150.96 504.22,150.20 504.27,149.43 504.33,148.63 504.40,147.81 504.46,146.98 504.53,146.12 504.60,145.24 504.67,144.35 504.75,143.44 504.82,142.51 504.90,141.57 504.99,140.61 505.07,139.64 505.16,138.66 505.25,137.67 505.34,136.67 505.44,135.65 505.54,134.63 505.64,133.60 505.74,132.56 505.85,131.52 505.96,130.47 506.07,129.41 506.18,128.36 506.30,127.29 506.41,126.23 506.53,125.16 506.66,124.09 506.78,123.02 506.91,121.95 507.04,120.88 507.18,119.82 507.31,118.75 507.45,117.69 507.59,116.63 507.74,115.57 507.88,114.52 508.03,113.48 508.19,112.43 508.34,111.40 508.50,110.37 508.66,109.35 508.82,108.33 508.98,107.33 509.15,106.33 509.32,105.34 509.49,104.36 509.66,103.39 509.84,102.43 510.02,101.47 510.20,100.53 510.39,99.60 510.57,98.68 510.76,97.77 510.96,96.88 511.15,95.99 511.35,95.12 511.55,94.26 511.75,93.41 511.96,92.57 512.16,91.75 512.37,90.94 512.59,90.14 512.80,89.35 513.02,88.58 513.24,87.82 513.46,87.07 513.69,86.34 513.92,85.62 514.15,84.91 514.38,84.22 514.62,83.54 514.85,82.87 515.09,82.22 515.34,81.58 515.58,80.95 515.83,80.33 516.08,79.73 516.34,79.14 516.59,78.57 516.85,78.00 517.11,77.45 517.38,76.92 517.64,76.39 517.91,75.88 518.18,75.38 518.46,74.89 518.73,74.41 519.01,73.95 519.29,73.50 519.58,73.05 519.86,72.62 520.15,72.20 520.44,71.80 520.74,71.40 521.04,71.01 521.33,70.64 521.64,70.27 521.94,69.92 522.25,69.57 522.56,69.24 522.87,68.91 523.18,68.60 523.50,68.29 523.82,67.99 524.14,67.70 524.47,67.42 524.80,67.15 525.13,66.89 525.46,66.63 525.79,66.39 526.13,66.15 526.47,65.92 526.81,65.69 527.16,65.48 527.51,65.27 527.86,65.07 528.21,64.87 528.56,64.68 528.92,64.50 529.28,64.32 529.65,64.15 530.01,63.99 530.38,63.83 530.75,63.68 531.12,63.53 531.50,63.39 531.88,63.25 532.26,63.12 532.64,62.99 533.03,62.87 533.42,62.75 533.81,62.64 534.20,62.53 534.60,62.42 535.00,62.32 535.40,62.22 535.80,62.13" fill="none" stroke="#ff0000" stroke-width="3.6" stroke-linejoin="round" stroke-linecap="butt"/>
<polyline points="535.80,63.32 535.80,63.33 535.82,63.35 535.83,63.40 535.86,63.47 535.90,63.56 535.94,63.68 535.99,63.82 536.05,64.00 536.11,64.19 536.18,64.42 536.27,64.68 536.35,64.96 536.45,65.27 536.55,65.62 536.67,65.99 536.78,66.39 536.91,66.82 537.05,67.28 537.19,67.76 537.34,68.28 537.50,68.83 537.66,69.40 537.83,70.01 538.01,70.64 538.20,71.29 538.40,71.98 538.60,72.69 538.81,73.43 539.03,74.20 539.26,74.99 539.49,75.80 539.74,76.64 539.99,77.50 540.24,78.38 540.51,79.29 540.78,80.21 541.06,81.16 541.35,82.13 541.65,83.11 541.95,84.11 542.26,85.13 542.58,86.17 542.91,87.22 543.24,88.29 543.59,89.36 543.94,90.45 544.29,91.56 544.66,92.67 545.03,93.79 545.41,94.92 545.80,96.06 546.20,97.20 546.60,98.35 547.01,99.51 547.43,100.67 547.86,101.83 548.29,102.99 548.73,104.16 549.18,105.32 549.64,106.48 550.11,107.64 550.58,108.80 551.06,109.96 551.55,111.11 552.04,112.25 552.55,113.39 553.06,114.53 553.58,115.65 554.11,116.77 554.64,117.87 555.18,118.97 555.73,120.06 556.29,121.14 556.85,122.20 557.43,123.25 558.01,124.29 558.60,125.32 559.19,126.33 559.80,127.33 560.41,128.32 561.03,129.28 561.65,130.24 562.29,131.17 562.93,132.10 563.58,133.00 564.24,133.89 564.90,134.76 565.57,135.61 566.25,136.45 566.94,137.27 567.64,138.07 568.34,138.85 569.05,139.62 569.77,140.37 570.50,141.10 571.23,141.81 571.98,142.51 572.73,143.18 573.48,143.84 574.25,144.48 575.02,145.11 575.80,145.71 576.59,146.30 577.39,146.87 578.19,147.43 579.00,147.96 579.82,148.49 580.65,148.99 581.48,149.48 582.32,149.95 583.17,150.41 584.03,150.85 584.89,151.28 585.77,151.69 586.65,152.09 587.54,152.47 588.43,152.84 589.33,153.19 590.25,153.53 591.16,153.86 592.09,154.18 593.03,154.48 593.97,154.77 594.92,155.05 595.87,155.32 596.84,155.58 597.81,155.82 598.79,156.06 599.78,156.28 600.78,156.50 601.78,156.71 602.79,156.90 603.81,157.09 604.84,157.27 605.87,157.44 606.91,157.60 607.96,157.76 609.02,157.91 610.09,158.05 611.16,158.18 612.24,158.31 613.33,158.43 614.42,158.54 615.53,158.65 616.64,158.75 617.76,158.85 618.88,158.94 620.02,159.03 621.16,159.11 622.31,159.19 623.46,159.26 624.63,159.33 625.80,159.40 626.98,159.46 628.17,159.52 629.37,159.58 630.57,159.63 631.78,159.68 633.00,159.72" fill="none" stroke="#0000ff" stroke-width="3.6" stroke-linejoin="round" stroke-linecap="butt"/>
<polyline points="633.40,152.40 633.40,152.38 633.41,152.31 633.41,152.18 633.42,152.01 633.43,151.78 633.45,151.50 633.46,151.17 633.48,150.78 633.50,150.33 633.53,149.84 633.56,149.29 633.59,148.68 633.62,148.03 633.65,147.32 633.69,146.57 633.73,145.77 633.77,144.91 633.82,144.02 633.87,143.08 633.92,142.09 633.97,141.07 634.02,140.00 634.08,138.90 634.14,137.76 634.21,136.58 634.27,135.37 634.34,134.14 634.41,132.87 634.48,131.58 634.56,130.27 634.64,128.93 634.72,127.57 634.80,126.20 634.89,124.81 634.98,123.41 635.07,121.99 635.17,120.57 635.26,119.14 635.36,117.71 635.46,116.27 635.57,114.83 635.67,113.39 635.78,111.96 635.90,110.53 636.01,109.11 636.13,107.69 636.25,106.29 636.37,104.90 636.50,103.52 636.62,102.16 636.75,100.81 636.89,99.48 637.02,98.17 637.16,96.87 637.30,95.60 637.44,94.36 637.59,93.13 637.74,91.93 637.89,90.75 638.04,89.60 638.20,88.47 638.36,87.37 638.52,86.30 638.68,85.26 638.85,84.24 639.02,83.25 639.19,82.29 639.36,81.35 639.54,80.45 639.72,79.57 639.90,78.72 640.08,77.90 640.27,77.11 640.46,76.34 640.65,75.61 640.85,74.89 641.05,74.21 641.25,73.55 641.45,72.92 641.65,72.31 641.86,71.73 642.07,71.17 642.28,70.64 642.50,70.13 642.72,69.64 642.94,69.18 643.16,68.73 643.39,68.31 643.61,67.91 643.84,67.53 644.08,67.16 644.31,66.82 644.55,66.49 644.79,66.18 645.04,65.88 645.28,65.61 645.53,65.34 645.78,65.09 646.04,64.86 646.30,64.64 646.55,64.43 646.82,64.23 647.08,64.05 647.35,63.87 647.62,63.71 647.89,63.56 648.16,63.42 648.44,63.28 648.72,63.16 649.00,63.04 649.29,62.93 649.58,62.83 649.87,62.73 650.16,62.64 650.45,62.56 650.75,62.48 651.05,62.41 651.36,62.34 651.66,62.28 651.97,62.23 652.28,62.17 652.59,62.12 652.91,62.08 653.23,62.04 653.55,62.00 653.87,61.96 654.20,61.93 654.53,61.90 654.86,61.87 655.19,61.85 655.53,61.82 655.87,61.80 656.21,61.78 656.55,61.76 656.90,61.75 657.25,61.73 657.60,61.72 657.96,61.71 658.31,61.69 658.67,61.68 659.04,61.67 659.40,61.67 659.77,61.66 660.14,61.65 660.51,61.64 660.89,61.64 661.26,61.63 661.65,61.63 662.03,61.62 662.41,61.62 662.80,61.62 663.19,61.61 663.59,61.61 663.98,61.61 664.38,61.60 664.78,61.60 665.19,61.60 665.59,61.60 666.00,61.60" fill="none" stroke="#ff0000" stroke-width="3.6" stroke-linejoin="round" stroke-linecap="butt"/>
<polyline points="406.40,280.57 406.40,280.60 406.42,280.67 406.43,280.80 406.46,280.98 406.50,281.22 406.54,281.52 406.59,281.87 406.65,282.28 406.71,282.74 406.78,283.26 406.87,283.84 406.95,284.48 407.05,285.16 407.15,285.90 407.27,286.70 407.38,287.55 407.51,288.45 407.65,289.39 407.79,290.39 407.94,291.44 408.10,292.53 408.26,293.66 408.43,294.84 408.61,296.06 408.80,297.32 409.00,298.62 409.20,299.96 409.41,301.33 409.63,302.73 409.86,304.16 410.09,305.63 410.34,307.11 410.59,308.63 410.84,310.17 411.11,311.72 411.38,313.30 411.66,314.90 411.95,316.51 412.25,318.13 412.55,319.76 412.86,321.40 413.18,323.05 413.51,324.71 413.84,326.37 414.19,328.02 414.54,329.68 414.89,331.34 415.26,332.99 415.63,334.64 416.01,336.28 416.40,337.91 416.80,339.53 417.20,341.14 417.61,342.73 418.03,344.31 418.46,345.87 418.89,347.42 419.33,348.95 419.78,350.45 420.24,351.94 420.71,353.41 421.18,354.85 421.66,356.27 422.15,357.66 422.64,359.03 423.15,360.37 423.66,361.69 424.18,362.98 424.71,364.24 425.24,365.47 425.78,366.68 426.33,367.85 426.89,369.00 427.45,370.12 428.03,371.21 428.61,372.27 429.20,373.30 429.79,374.31 430.40,375.28 431.01,376.23 431.63,377.14 432.25,378.03 432.89,378.89 433.53,379.72 434.18,380.52 434.84,381.30 435.50,382.05 436.17,382.77 436.85,383.46 437.54,384.13 438.24,384.78 438.94,385.40 439.65,386.00 440.37,386.57 441.10,387.12 441.83,387.65 442.58,388.15 443.33,388.63 444.08,389.10 444.85,389.54 445.62,389.96 446.40,390.36 447.19,390.75 447.99,391.12 448.79,391.47 449.60,391.80 450.42,392.12 451.25,392.42 452.08,392.70 452.92,392.98 453.77,393.23 454.63,393.48 455.49,393.71 456.37,393.93 457.25,394.14 458.14,394.33 459.03,394.52 459.93,394.69 460.85,394.86 461.76,395.02 462.69,395.16 463.63,395.30 464.57,395.43 465.52,395.55 466.47,395.67 467.44,395.78 468.41,395.88 469.39,395.97 470.38,396.06 471.38,396.15 472.38,396.22 473.39,396.30 474.41,396.37 475.44,396.43 476.47,396.49 477.51,396.54 478.56,396.60 479.62,396.64 480.69,396.69 481.76,396.73 482.84,396.77 483.93,396.81 485.02,396.84 486.13,396.87 487.24,396.90 488.36,396.93 489.48,396.95 490.62,396.97 491.76,397.00 492.91,397.02 494.06,397.03 495.23,397.05 496.40,397.07 497.58,397.08 498.77,397.09 499.97,397.11 501.17,397.12 502.38,397.13 503.60,397.14" fill="none" stroke="#0000ff" stroke-width="3.6" stroke-linejoin="round" stroke-linecap="butt"/>
<polyline points="503.80,397.51 503.80,397.52 503.81,397.53 503.81,397.55 503.82,397.59 503.83,397.63 503.85,397.68 503.86,397.74 503.88,397.82 503.90,397.90 503.93,397.99 503.95,398.10 503.98,398.21 504.01,398.34 504.05,398.47 504.08,398.62 504.12,398.78 504.17,398.94 504.21,399.12 504.26,399.31 504.31,399.51 504.36,399.72 504.41,399.93 504.47,400.16 504.53,400.40 504.59,400.65 504.66,400.91 504.72,401.18 504.79,401.45 504.86,401.74 504.94,402.03 505.02,402.34 505.10,402.65 505.18,402.98 505.26,403.31 505.35,403.65 505.44,404.00 505.53,404.35 505.63,404.72 505.73,405.09 505.83,405.47 505.93,405.86 506.03,406.26 506.14,406.66 506.25,407.07 506.36,407.49 506.48,407.91 506.60,408.34 506.72,408.78 506.84,409.22 506.96,409.67 507.09,410.12 507.22,410.58 507.36,411.04 507.49,411.51 507.63,411.99 507.77,412.46 507.91,412.95 508.06,413.43 508.21,413.92 508.36,414.42 508.51,414.92 508.67,415.42 508.82,415.92 508.98,416.43 509.15,416.94 509.31,417.45 509.48,417.96 509.65,418.48 509.83,418.99 510.00,419.51 510.18,420.03 510.36,420.55 510.55,421.08 510.73,421.60 510.92,422.12 511.11,422.64 511.30,423.17 511.50,423.69 511.70,424.21 511.90,424.74 512.10,425.26 512.31,425.78 512.52,426.30 512.73,426.81 512.95,427.33 513.16,427.84 513.38,428.36 513.60,428.87 513.83,429.38 514.05,429.88 514.28,430.39 514.51,430.89 514.75,431.39 514.98,431.88 515.22,432.37 515.47,432.86 515.71,433.35 515.96,433.83 516.21,434.31 516.46,434.78 516.71,435.25 516.97,435.72 517.23,436.18 517.49,436.64 517.76,437.10 518.02,437.55 518.29,437.99 518.56,438.43 518.84,438.87 519.12,439.30 519.40,439.73 519.68,440.15 519.96,440.57 520.25,440.98 520.54,441.38 520.83,441.79 521.13,442.18 521.42,442.57 521.72,442.96 522.03,443.34 522.33,443.72 522.64,444.09 522.95,444.45 523.26,444.81 523.58,445.17 523.90,445.52 524.22,445.86 524.54,446.20 524.86,446.53 525.19,446.86 525.52,447.18 525.85,447.49 526.19,447.81 526.53,448.11 526.87,448.41 527.21,448.71 527.56,448.99 527.91,449.28 528.26,449.56 528.61,449.83 528.96,450.10 529.32,450.36 529.68,450.62 530.05,450.87 530.41,451.12 530.78,451.36 531.15,451.60 531.53,451.83 531.90,452.06 532.28,452.28 532.66,452.50 533.04,452.71 533.43,452.92 533.82,453.12 534.21,453.32 534.60,453.52 535.00,453.71 535.40,453.89 535.80,454.07" fill="none" stroke="#ff0000" stroke-width="3.6" stroke-linejoin="round" stroke-linecap="butt"/>
<polyline points="536.20,453.24 536.20,453.23 536.22,453.21 536.23,453.17 536.26,453.13 536.30,453.07 536.34,453.00 536.39,452.92 536.45,452.83 536.51,452.73 536.59,452.62 536.67,452.49 536.76,452.36 536.85,452.22 536.96,452.07 537.07,451.91 537.19,451.74 537.32,451.56 537.45,451.38 537.60,451.18 537.75,450.98 537.91,450.77 538.07,450.55 538.25,450.32 538.43,450.09 538.62,449.85 538.82,449.60 539.02,449.34 539.23,449.08 539.45,448.81 539.68,448.53 539.92,448.25 540.16,447.97 540.41,447.67 540.67,447.37 540.94,447.07 541.21,446.76 541.50,446.45 541.79,446.13 542.08,445.81 542.39,445.48 542.70,445.15 543.02,444.82 543.35,444.48 543.69,444.14 544.03,443.79 544.39,443.45 544.75,443.10 545.11,442.75 545.49,442.39 545.87,442.03 546.26,441.67 546.66,441.31 547.07,440.95 547.48,440.59 547.90,440.22 548.33,439.86 548.77,439.49 549.21,439.12 549.67,438.75 550.13,438.39 550.59,438.02 551.07,437.65 551.55,437.28 552.05,436.91 552.54,436.55 553.05,436.18 553.57,435.81 554.09,435.45 554.62,435.09 555.16,434.72 555.70,434.36 556.25,434.00 556.82,433.65 557.38,433.29 557.96,432.94 558.54,432.59 559.14,432.24 559.74,431.89 560.34,431.54 560.96,431.20 561.58,430.86 562.21,430.52 562.85,430.19 563.50,429.86 564.15,429.53 564.81,429.20 565.48,428.88 566.16,428.56 566.84,428.25 567.53,427.93 568.24,427.63 568.94,427.32 569.66,427.02 570.38,426.72 571.11,426.42 571.85,426.13 572.60,425.84 573.35,425.56 574.12,425.28 574.89,425.00 575.66,424.73 576.45,424.46 577.24,424.20 578.04,423.94 578.85,423.68 579.67,423.43 580.49,423.18 581.32,422.93 582.16,422.69 583.01,422.45 583.86,422.22 584.73,421.99 585.60,421.76 586.48,421.54 587.36,421.32 588.25,421.11 589.16,420.90 590.07,420.69 590.98,420.49 591.91,420.29 592.84,420.10 593.78,419.91 594.73,419.72 595.68,419.54 596.65,419.36 597.62,419.18 598.60,419.01 599.58,418.84 600.58,418.68 601.58,418.52 602.59,418.36 603.61,418.20 604.63,418.05 605.66,417.90 606.70,417.76 607.75,417.62 608.81,417.48 609.87,417.35 610.94,417.22 612.02,417.09 613.11,416.96 614.20,416.84 615.31,416.72 616.42,416.60 617.54,416.49 618.66,416.38 619.79,416.27 620.94,416.17 622.08,416.07 623.24,415.97 624.41,415.87 625.58,415.78 626.76,415.69 627.95,415.60 629.14,415.51 630.34,415.43 631.56,415.34 632.77,415.26 634.00,415.19" fill="none" stroke="#0000ff" stroke-width="3.6" stroke-linejoin="round" stroke-linecap="butt"/>
<polyline points="633.50,415.50 633.50,415.50 633.51,415.52 633.51,415.54 633.52,415.58 633.53,415.62 633.55,415.68 633.56,415.74 633.58,415.82 633.61,415.91 633.63,416.01 633.66,416.12 633.69,416.24 633.72,416.38 633.76,416.52 633.79,416.68 633.83,416.84 633.88,417.02 633.92,417.21 633.97,417.41 634.02,417.62 634.07,417.84 634.13,418.07 634.19,418.31 634.25,418.56 634.31,418.83 634.38,419.10 634.45,419.38 634.52,419.68 634.59,419.98 634.67,420.29 634.75,420.62 634.83,420.95 634.92,421.29 635.00,421.64 635.09,422.00 635.19,422.37 635.28,422.75 635.38,423.14 635.48,423.53 635.58,423.94 635.69,424.35 635.80,424.77 635.91,425.19 636.02,425.63 636.14,426.07 636.25,426.52 636.37,426.97 636.50,427.44 636.62,427.90 636.75,428.38 636.88,428.86 637.02,429.35 637.16,429.84 637.29,430.34 637.44,430.84 637.58,431.35 637.73,431.86 637.88,432.37 638.03,432.89 638.18,433.42 638.34,433.95 638.50,434.48 638.67,435.02 638.83,435.55 639.00,436.09 639.17,436.64 639.34,437.18 639.52,437.73 639.70,438.28 639.88,438.83 640.06,439.39 640.25,439.94 640.44,440.50 640.63,441.05 640.82,441.61 641.02,442.17 641.22,442.73 641.42,443.28 641.62,443.84 641.83,444.40 642.04,444.95 642.25,445.51 642.47,446.06 642.68,446.61 642.90,447.17 643.12,447.72 643.35,448.26 643.58,448.81 643.81,449.35 644.04,449.90 644.28,450.43 644.51,450.97 644.76,451.50 645.00,452.03 645.24,452.56 645.49,453.09 645.74,453.61 646.00,454.12 646.25,454.64 646.51,455.15 646.78,455.65 647.04,456.16 647.31,456.65 647.58,457.15 647.85,457.64 648.12,458.12 648.40,458.60 648.68,459.08 648.96,459.55 649.25,460.01 649.53,460.47 649.82,460.93 650.12,461.38 650.41,461.82 650.71,462.26 651.01,462.70 651.31,463.13 651.62,463.55 651.93,463.97 652.24,464.38 652.55,464.79 652.87,465.19 653.19,465.59 653.51,465.98 653.83,466.36 654.16,466.74 654.49,467.12 654.82,467.48 655.16,467.85 655.49,468.20 655.83,468.55 656.18,468.90 656.52,469.24 656.87,469.57 657.22,469.90 657.57,470.22 657.93,470.54 658.28,470.85 658.64,471.16 659.01,471.46 659.37,471.75 659.74,472.04 660.11,472.32 660.49,472.60 660.86,472.87 661.24,473.14 661.62,473.40 662.01,473.66 662.39,473.91 662.78,474.15 663.17,474.39 663.57,474.63 663.96,474.86 664.36,475.08 664.77,475.30 665.17,475.52 665.58,475.73 665.99,475.94 666.40,476.14" fill="none" stroke="#ff0000" stroke-width="3.6" stroke-linejoin="round" stroke-linecap="butt"/>
<polyline points="406.00,678.91 406.00,678.89 406.02,678.84 406.03,678.75 406.06,678.63 406.10,678.49 406.14,678.31 406.19,678.10 406.25,677.87 406.31,677.61 406.38,677.32 406.47,677.00 406.55,676.66 406.65,676.30 406.75,675.91 406.87,675.50 406.99,675.07 407.11,674.61 407.25,674.13 407.39,673.63 407.54,673.11 407.70,672.57 407.86,672.01 408.04,671.44 408.22,670.84 408.41,670.23 408.60,669.60 408.81,668.96 409.02,668.31 409.24,667.63 409.46,666.95 409.70,666.25 409.94,665.55 410.19,664.83 410.45,664.10 410.71,663.36 410.99,662.61 411.27,661.85 411.56,661.09 411.85,660.32 412.16,659.54 412.47,658.76 412.79,657.97 413.12,657.18 413.45,656.39 413.79,655.59 414.14,654.79 414.50,653.99 414.87,653.19 415.24,652.39 415.62,651.59 416.01,650.79 416.41,649.99 416.81,649.20 417.22,648.41 417.64,647.62 418.07,646.83 418.50,646.05 418.95,645.27 419.40,644.50 419.86,643.73 420.32,642.97 420.79,642.21 421.28,641.47 421.76,640.72 422.26,639.99 422.77,639.26 423.28,638.55 423.80,637.84 424.32,637.14 424.86,636.44 425.40,635.76 425.95,635.09 426.51,634.43 427.08,633.77 427.65,633.13 428.23,632.49 428.82,631.87 429.42,631.26 430.02,630.66 430.63,630.06 431.25,629.48 431.88,628.91 432.51,628.35 433.16,627.81 433.81,627.27 434.47,626.74 435.13,626.23 435.80,625.72 436.49,625.23 437.17,624.75 437.87,624.28 438.58,623.82 439.29,623.37 440.01,622.93 440.73,622.50 441.47,622.09 442.21,621.68 442.96,621.28 443.72,620.90 444.49,620.52 445.26,620.16 446.04,619.80 446.83,619.46 447.63,619.12 448.43,618.79 449.24,618.48 450.06,618.17 450.89,617.87 451.73,617.58 452.57,617.30 453.42,617.03 454.28,616.77 455.14,616.51 456.02,616.27 456.90,616.03 457.79,615.80 458.69,615.57 459.59,615.36 460.50,615.15 461.42,614.95 462.35,614.75 463.28,614.57 464.23,614.39 465.18,614.21 466.14,614.04 467.10,613.88 468.08,613.73 469.06,613.58 470.05,613.43 471.04,613.29 472.05,613.16 473.06,613.03 474.08,612.91 475.11,612.79 476.14,612.68 477.19,612.57 478.24,612.46 479.30,612.36 480.36,612.27 481.44,612.17 482.52,612.09 483.61,612.00 484.70,611.92 485.81,611.84 486.92,611.77 488.04,611.70 489.17,611.63 490.30,611.57 491.45,611.50 492.60,611.44 493.76,611.39 494.92,611.33 496.10,611.28 497.28,611.23 498.47,611.19 499.66,611.14 500.87,611.10 502.08,611.06 503.30,611.02" fill="none" stroke="#0000ff" stroke-width="3.6" stroke-linejoin="round" stroke-linecap="butt"/>
<polyline points="503.30,609.22 503.30,609.22 503.31,609.21 503.31,609.20 503.32,609.18 503.33,609.15 503.35,609.11 503.36,609.07 503.38,609.02 503.40,608.97 503.43,608.91 503.46,608.84 503.49,608.76 503.52,608.68 503.55,608.59 503.59,608.50 503.63,608.40 503.67,608.29 503.72,608.17 503.77,608.05 503.82,607.92 503.87,607.79 503.93,607.65 503.98,607.50 504.05,607.35 504.11,607.19 504.17,607.02 504.24,606.85 504.31,606.67 504.39,606.49 504.46,606.30 504.54,606.10 504.62,605.90 504.71,605.70 504.80,605.48 504.88,605.27 504.98,605.05 505.07,604.82 505.17,604.59 505.27,604.35 505.37,604.11 505.47,603.86 505.58,603.61 505.69,603.36 505.80,603.10 505.92,602.84 506.04,602.57 506.16,602.30 506.28,602.02 506.41,601.75 506.53,601.47 506.66,601.18 506.80,600.89 506.93,600.60 507.07,600.31 507.21,600.02 507.36,599.72 507.50,599.42 507.65,599.12 507.80,598.81 507.96,598.51 508.11,598.20 508.27,597.89 508.43,597.58 508.60,597.27 508.76,596.95 508.93,596.64 509.11,596.32 509.28,596.01 509.46,595.69 509.64,595.38 509.82,595.06 510.01,594.74 510.19,594.42 510.38,594.11 510.58,593.79 510.77,593.47 510.97,593.16 511.17,592.84 511.37,592.53 511.58,592.21 511.79,591.90 512.00,591.59 512.21,591.28 512.43,590.97 512.65,590.66 512.87,590.35 513.09,590.05 513.32,589.75 513.55,589.44 513.78,589.14 514.01,588.85 514.25,588.55 514.49,588.26 514.73,587.97 514.97,587.68 515.22,587.39 515.47,587.11 515.72,586.83 515.98,586.55 516.23,586.27 516.49,586.00 516.76,585.73 517.02,585.46 517.29,585.20 517.56,584.94 517.83,584.68 518.11,584.42 518.39,584.17 518.67,583.92 518.95,583.68 519.24,583.44 519.53,583.20 519.82,582.96 520.11,582.73 520.41,582.50 520.70,582.27 521.01,582.05 521.31,581.83 521.62,581.61 521.93,581.40 522.24,581.19 522.55,580.99 522.87,580.79 523.19,580.59 523.51,580.39 523.83,580.20 524.16,580.01 524.49,579.83 524.82,579.64 525.16,579.47 525.50,579.29 525.84,579.12 526.18,578.95 526.53,578.79 526.87,578.63 527.22,578.47 527.58,578.31 527.93,578.16 528.29,578.01 528.65,577.87 529.02,577.72 529.38,577.58 529.75,577.45 530.12,577.32 530.50,577.19 530.87,577.06 531.25,576.93 531.63,576.81 532.02,576.70 532.40,576.58 532.79,576.47 533.18,576.36 533.58,576.25 533.98,576.15 534.38,576.04 534.78,575.95 535.18,575.85 535.59,575.76 536.00,575.66" fill="none" stroke="#ff0000" stroke-width="3.6" stroke-linejoin="round" stroke-linecap="butt"/>
<polyline points="536.20,574.79 536.20,574.80 536.22,574.81 536.23,574.82 536.26,574.84 536.30,574.87 536.34,574.91 536.39,574.96 536.45,575.02 536.51,575.08 536.58,575.16 536.67,575.24 536.75,575.34 536.85,575.44 536.95,575.55 537.07,575.67 537.18,575.80 537.31,575.94 537.45,576.09 537.59,576.25 537.74,576.42 537.90,576.59 538.06,576.78 538.23,576.98 538.41,577.18 538.60,577.39 538.80,577.61 539.00,577.84 539.21,578.07 539.43,578.32 539.66,578.57 539.89,578.82 540.14,579.09 540.39,579.36 540.64,579.64 540.91,579.92 541.18,580.21 541.46,580.50 541.75,580.80 542.05,581.10 542.35,581.41 542.66,581.72 542.98,582.04 543.31,582.36 543.64,582.68 543.99,583.00 544.34,583.33 544.69,583.66 545.06,583.99 545.43,584.32 545.81,584.65 546.20,584.98 546.60,585.31 547.00,585.65 547.41,585.98 547.83,586.31 548.26,586.64 548.69,586.97 549.13,587.30 549.58,587.62 550.04,587.94 550.51,588.26 550.98,588.58 551.46,588.90 551.95,589.21 552.44,589.52 552.95,589.82 553.46,590.12 553.98,590.42 554.51,590.71 555.04,590.99 555.58,591.28 556.13,591.55 556.69,591.83 557.25,592.09 557.83,592.36 558.41,592.61 559.00,592.87 559.59,593.11 560.20,593.35 560.81,593.59 561.43,593.82 562.05,594.04 562.69,594.26 563.33,594.47 563.98,594.68 564.64,594.88 565.30,595.08 565.97,595.27 566.65,595.45 567.34,595.63 568.04,595.80 568.74,595.97 569.45,596.13 570.17,596.29 570.90,596.44 571.63,596.58 572.38,596.72 573.13,596.86 573.88,596.99 574.65,597.11 575.42,597.23 576.20,597.35 576.99,597.46 577.79,597.57 578.59,597.67 579.40,597.77 580.22,597.86 581.05,597.95 581.88,598.04 582.72,598.12 583.57,598.20 584.43,598.27 585.29,598.34 586.17,598.41 587.05,598.48 587.94,598.54 588.83,598.60 589.73,598.65 590.65,598.70 591.56,598.75 592.49,598.80 593.43,598.84 594.37,598.89 595.32,598.93 596.27,598.96 597.24,599.00 598.21,599.03 599.19,599.07 600.18,599.10 601.18,599.12 602.18,599.15 603.19,599.18 604.21,599.20 605.24,599.22 606.27,599.24 607.31,599.26 608.36,599.28 609.42,599.30 610.49,599.31 611.56,599.33 612.64,599.34 613.73,599.35 614.82,599.37 615.93,599.38 617.04,599.39 618.16,599.40 619.28,599.41 620.42,599.41 621.56,599.42 622.71,599.43 623.86,599.44 625.03,599.44 626.20,599.45 627.38,599.45 628.57,599.46 629.77,599.46 630.97,599.47 632.18,599.47 633.40,599.47" fill="none" stroke="#0000ff" stroke-width="3.6" stroke-linejoin="round" stroke-linecap="butt"/>
<polyline points="633.60,598.82 633.60,598.81 633.61,598.78 633.61,598.74 633.62,598.67 633.63,598.59 633.65,598.50 633.66,598.39 633.68,598.26 633.70,598.12 633.73,597.97 633.76,597.80 633.79,597.62 633.82,597.42 633.85,597.21 633.89,596.98 633.93,596.75 633.97,596.49 634.02,596.23 634.07,595.96 634.12,595.67 634.17,595.37 634.22,595.06 634.28,594.74 634.34,594.41 634.41,594.07 634.47,593.72 634.54,593.36 634.61,592.99 634.68,592.61 634.76,592.22 634.84,591.82 634.92,591.42 635.00,591.01 635.09,590.59 635.18,590.16 635.27,589.73 635.37,589.29 635.46,588.85 635.56,588.40 635.66,587.95 635.77,587.49 635.87,587.03 635.98,586.56 636.10,586.09 636.21,585.62 636.33,585.14 636.45,584.66 636.57,584.18 636.70,583.70 636.82,583.22 636.95,582.73 637.09,582.24 637.22,581.76 637.36,581.27 637.50,580.78 637.64,580.30 637.79,579.81 637.94,579.32 638.09,578.84 638.24,578.36 638.40,577.88 638.56,577.40 638.72,576.92 638.88,576.45 639.05,575.97 639.22,575.51 639.39,575.04 639.56,574.58 639.74,574.12 639.92,573.66 640.10,573.21 640.28,572.77 640.47,572.32 640.66,571.88 640.85,571.45 641.05,571.02 641.25,570.60 641.45,570.18 641.65,569.77 641.85,569.36 642.06,568.95 642.27,568.56 642.48,568.16 642.70,567.78 642.92,567.40 643.14,567.02 643.36,566.65 643.59,566.29 643.81,565.93 644.04,565.58 644.28,565.23 644.51,564.89 644.75,564.56 644.99,564.23 645.24,563.91 645.48,563.60 645.73,563.29 645.98,562.99 646.24,562.69 646.50,562.40 646.75,562.12 647.02,561.84 647.28,561.57 647.55,561.30 647.82,561.04 648.09,560.79 648.36,560.54 648.64,560.30 648.92,560.06 649.20,559.83 649.49,559.60 649.78,559.38 650.07,559.17 650.36,558.96 650.65,558.76 650.95,558.56 651.25,558.37 651.56,558.18 651.86,558.00 652.17,557.82 652.48,557.65 652.79,557.48 653.11,557.32 653.43,557.16 653.75,557.01 654.07,556.86 654.40,556.72 654.73,556.58 655.06,556.44 655.39,556.31 655.73,556.18 656.07,556.06 656.41,555.94 656.75,555.82 657.10,555.71 657.45,555.61 657.80,555.50 658.16,555.40 658.51,555.30 658.87,555.21 659.24,555.12 659.60,555.03 659.97,554.94 660.34,554.86 660.71,554.78 661.09,554.71 661.46,554.63 661.85,554.56 662.23,554.50 662.61,554.43 663.00,554.37 663.39,554.31 663.79,554.25 664.18,554.19 664.58,554.14 664.98,554.09 665.39,554.04 665.79,553.99 666.20,553.94" fill="none" stroke="#ff0000" stroke-width="3.6" stroke-linejoin="round" stroke-linecap="butt"/>
<g font-family="'Liberation Sans', Arial, Helvetica, sans-serif" fill="#000">
<text x="56.60" y="238.30" text-anchor="end" font-size="19.5">1.0</text>
<text x="56.60" y="192.53" text-anchor="end" font-size="19.5">1.5</text>
<text x="56.60" y="146.75" text-anchor="end" font-size="19.5">2.0</text>
<text x="56.60" y="100.98" text-anchor="end" font-size="19.5">2.5</text>
<text x="56.60" y="55.20" text-anchor="end" font-size="19.5">3.0</text>
<text x="56.60" y="457.60" text-anchor="end" font-size="19.5">1.0</text>
<text x="56.60" y="420.56" text-anchor="end" font-size="19.5">2.0</text>
<text x="56.60" y="383.52" text-anchor="end" font-size="19.5">3.0</text>
<text x="56.60" y="346.48" text-anchor="end" font-size="19.5">4.0</text>
<text x="56.60" y="309.44" text-anchor="end" font-size="19.5">5.0</text>
<text x="56.60" y="272.40" text-anchor="end" font-size="19.5">6.0</text>
<text x="56.60" y="729.70" text-anchor="end" font-size="19.5">1.5</text>
<text x="56.60" y="669.43" text-anchor="end" font-size="19.5">2.0</text>
<text x="56.60" y="609.15" text-anchor="end" font-size="19.5">2.5</text>
<text x="56.60" y="548.88" text-anchor="end" font-size="19.5">3.0</text>
<text x="390.10" y="200.60" text-anchor="end" font-size="19.5">0.5</text>
<text x="390.10" y="122.80" text-anchor="end" font-size="19.5">1.0</text>
<text x="390.10" y="45.00" text-anchor="end" font-size="19.5">1.5</text>
<text x="390.10" y="428.20" text-anchor="end" font-size="19.5">2.5</text>
<text x="390.10" y="341.20" text-anchor="end" font-size="19.5">5.0</text>
<text x="390.10" y="706.00" text-anchor="end" font-size="19.5">5.0</text>
<text x="390.10" y="647.53" text-anchor="end" font-size="19.5">6.0</text>
<text x="390.10" y="589.06" text-anchor="end" font-size="19.5">7.0</text>
<text x="390.10" y="530.59" text-anchor="end" font-size="19.5">8.0</text>
<text x="83.10" y="30.20" font-size="19.5" letter-spacing="0.6">(a)</text>
<text x="176.50" y="31.20" font-size="19.8" font-weight="bold">Rh 3d5/2</text>
<text x="83.10" y="273.40" font-size="19.5" letter-spacing="0.6">(b)</text>
<text x="176.50" y="274.40" font-size="19.8" font-weight="bold">carbon</text>
<text x="83.10" y="517.10" font-size="19.5" letter-spacing="0.6">(c)</text>
<text x="176.50" y="518.10" font-size="19.8" font-weight="bold">oxygen</text>
<text x="416.60" y="30.20" font-size="19.5" letter-spacing="0.6">(d)</text>
<text x="510.00" y="31.20" font-size="19.8" font-weight="bold">Fe 2p3/2</text>
<text x="416.60" y="274.30" font-size="19.5" letter-spacing="0.6">(e)</text>
<text x="510.00" y="275.30" font-size="19.8" font-weight="bold">carbon</text>
<text x="416.60" y="517.40" font-size="19.5" letter-spacing="0.6">(f)</text>
<text x="510.00" y="518.40" font-size="19.8" font-weight="bold">oxygen</text>
<text x="72.30" y="758.7" text-anchor="middle" font-size="19.5">0</text>
<text x="153.67" y="758.7" text-anchor="middle" font-size="19.5">100</text>
<text x="235.04" y="758.7" text-anchor="middle" font-size="19.5">200</text>
<text x="316.41" y="758.7" text-anchor="middle" font-size="19.5">300</text>
<text x="204.4" y="790.4" text-anchor="middle" font-size="20.3">Cleaning time/min</text>
<text x="406.20" y="758.7" text-anchor="middle" font-size="19.5">0</text>
<text x="487.43" y="758.7" text-anchor="middle" font-size="19.5">100</text>
<text x="568.66" y="758.7" text-anchor="middle" font-size="19.5">200</text>
<text x="649.89" y="758.7" text-anchor="middle" font-size="19.5">300</text>
<text x="542.8" y="790.4" text-anchor="middle" font-size="20.3">Cleaning time/min</text>
<text transform="translate(16.0,128.5) rotate(-90)" text-anchor="middle" font-size="20">Intensity/arb. units</text>
<text transform="translate(16.0,371.9) rotate(-90)" text-anchor="middle" font-size="20">Intensity/arb. units</text>
<text transform="translate(16.0,616.5) rotate(-90)" text-anchor="middle" font-size="20">Intensity/arb. units</text>
</g>
<text x="89.80" y="231.00" font-family="'Liberation Sans', Arial, Helvetica, sans-serif" font-size="19.5" font-weight="bold" font-style="italic" fill="#0000ff">UV/O<tspan font-size="13" dy="4.4">3</tspan></text>
<text x="174.00" y="231.00" font-family="'Liberation Sans', Arial, Helvetica, sans-serif" font-size="19.5" font-weight="bold" font-style="italic" fill="#ff0000">H<tspan font-size="13" dy="4.4">2</tspan></text>
<text x="220.30" y="231.00" font-family="'Liberation Sans', Arial, Helvetica, sans-serif" font-size="19.5" font-weight="bold" font-style="italic" fill="#0000ff">UV/O<tspan font-size="13" dy="4.4">3</tspan></text>
<text x="310.10" y="231.00" font-family="'Liberation Sans', Arial, Helvetica, sans-serif" font-size="19.5" font-weight="bold" font-style="italic" fill="#ff0000">H<tspan font-size="13" dy="4.4">2</tspan></text>
<text x="423.30" y="225.90" font-family="'Liberation Sans', Arial, Helvetica, sans-serif" font-size="19.5" font-weight="bold" font-style="italic" fill="#0000ff">UV/O<tspan font-size="13" dy="4.4">3</tspan></text>
<text x="507.50" y="225.90" font-family="'Liberation Sans', Arial, Helvetica, sans-serif" font-size="19.5" font-weight="bold" font-style="italic" fill="#ff0000">H<tspan font-size="13" dy="4.4">2</tspan></text>
<text x="553.80" y="225.90" font-family="'Liberation Sans', Arial, Helvetica, sans-serif" font-size="19.5" font-weight="bold" font-style="italic" fill="#0000ff">UV/O<tspan font-size="13" dy="4.4">3</tspan></text>
<text x="643.60" y="225.90" font-family="'Liberation Sans', Arial, Helvetica, sans-serif" font-size="19.5" font-weight="bold" font-style="italic" fill="#ff0000">H<tspan font-size="13" dy="4.4">2</tspan></text>
</svg>
</body></html>
